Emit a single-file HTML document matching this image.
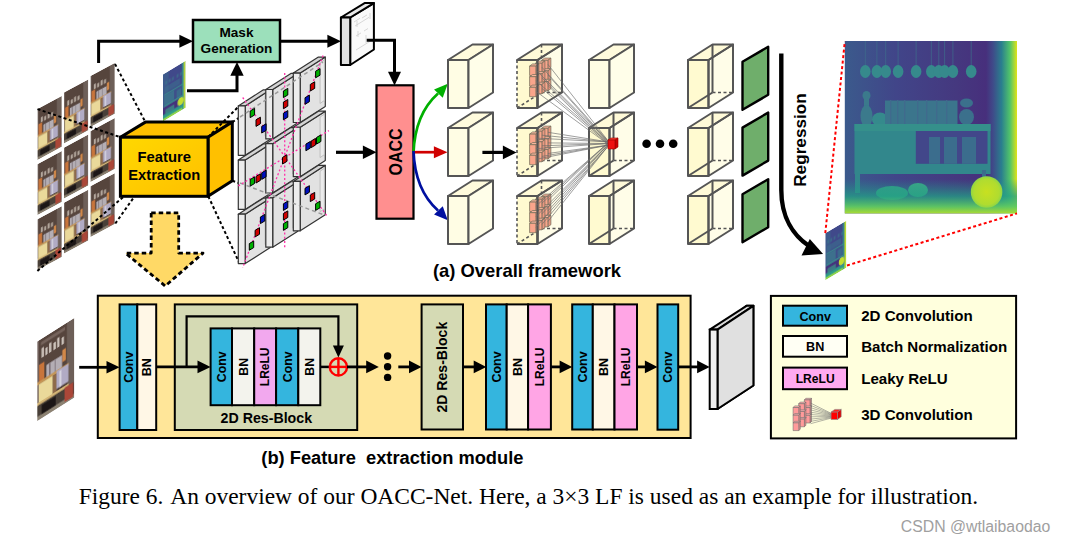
<!DOCTYPE html>
<html><head><meta charset="utf-8"><title>OACC-Net overview</title>
<style>html,body{margin:0;padding:0;background:#fff;width:1066px;height:542px;overflow:hidden}svg{display:block}</style>
</head><body>
<svg width="1066" height="542" viewBox="0 0 1066 542"><defs><filter id="soft" x="-5%" y="-5%" width="110%" height="110%"><feGaussianBlur stdDeviation="0.45"/></filter><clipPath id="cp1"><rect x="0" y="0" width="24.3" height="50.8"/></clipPath><clipPath id="cp2"><rect x="0" y="0" width="24.3" height="50.8"/></clipPath><clipPath id="cp3"><rect x="0" y="0" width="24.3" height="50.8"/></clipPath><clipPath id="cp4"><rect x="0" y="0" width="24.3" height="50.8"/></clipPath><clipPath id="cp5"><rect x="0" y="0" width="24.3" height="50.8"/></clipPath><clipPath id="cp6"><rect x="0" y="0" width="24.3" height="50.8"/></clipPath><clipPath id="cp7"><rect x="0" y="0" width="24.3" height="50.8"/></clipPath><clipPath id="cp8"><rect x="0" y="0" width="24.3" height="50.8"/></clipPath><clipPath id="cp9"><rect x="0" y="0" width="24.3" height="50.8"/></clipPath><clipPath id="cp10"><rect x="0" y="0" width="22.6" height="47"/></clipPath><linearGradient id="feg" x1="0" y1="0" x2="1" y2="1"><stop offset="0" stop-color="#ffd800"/><stop offset="1" stop-color="#ffbf00"/></linearGradient><linearGradient id="dmh" x1="0" y1="0" x2="1" y2="0"><stop offset="0" stop-color="#3b5a8c"/><stop offset="0.3" stop-color="#414589"/><stop offset="0.65" stop-color="#45387f"/><stop offset="0.82" stop-color="#472f7c"/><stop offset="0.86" stop-color="#3f4a89"/><stop offset="0.91" stop-color="#2a7f8e"/><stop offset="0.96" stop-color="#52c569"/><stop offset="1" stop-color="#dfe31a"/></linearGradient><linearGradient id="dmv" x1="0" y1="0" x2="0" y2="1"><stop offset="0" stop-color="#21918c" stop-opacity="0"/><stop offset="0.8" stop-color="#21918c" stop-opacity="0"/><stop offset="0.9" stop-color="#23a085" stop-opacity="0.75"/><stop offset="0.96" stop-color="#5ec962" stop-opacity="0.95"/><stop offset="1" stop-color="#a8db34" stop-opacity="1"/></linearGradient><radialGradient id="ball" cx="0.5" cy="0.5" r="0.5"><stop offset="0" stop-color="#c8e020"/><stop offset="0.8" stop-color="#b0dc30"/><stop offset="1" stop-color="#8ed645"/></radialGradient><clipPath id="cp15"><rect x="0" y="0" width="20.9" height="47"/></clipPath><clipPath id="cp16"><rect x="0" y="0" width="37.1" height="79.5"/></clipPath></defs><rect x="0" y="0" width="1066" height="542" fill="#fff"/>
<g transform="matrix(1,-0.54,0,1,37.4,109.1)"><g clip-path="url(#cp1)"><g filter="url(#soft)"><rect x="0.00" y="0.00" width="24.30" height="50.80" fill="#56443d" opacity="1"/><rect x="19.44" y="0.00" width="4.86" height="40.64" fill="#6d5f58" opacity="1"/><rect x="0.00" y="0.00" width="0.97" height="50.80" fill="#7a6c66" opacity="1"/><rect x="3.40" y="10.16" width="1.94" height="5.08" fill="#c4b8ae" opacity="0.85"/><rect x="6.80" y="11.18" width="1.94" height="4.06" fill="#c4b8ae" opacity="0.85"/><rect x="10.21" y="10.16" width="1.94" height="5.08" fill="#c4b8ae" opacity="0.85"/><rect x="13.61" y="11.18" width="1.94" height="4.06" fill="#c4b8ae" opacity="0.85"/><rect x="1.22" y="15.75" width="3.40" height="11.18" fill="#c8743a" opacity="1"/><rect x="6.08" y="18.80" width="10.21" height="8.13" fill="#b4aeb4" opacity="1"/><rect x="7.78" y="18.80" width="0.97" height="8.13" fill="#7d7278" opacity="1"/><rect x="11.42" y="18.80" width="0.73" height="8.13" fill="#8a8088" opacity="1"/><rect x="16.52" y="15.75" width="2.19" height="7.62" fill="#d08848" opacity="1"/><rect x="0.00" y="26.42" width="20.66" height="1.78" fill="#c49656" opacity="1"/><rect x="0.97" y="28.19" width="9.23" height="12.45" fill="#ead99a" opacity="1"/><rect x="10.21" y="28.19" width="2.43" height="12.45" fill="#8f6a48" opacity="1"/><rect x="12.64" y="26.92" width="7.78" height="11.18" fill="#b1abc4" opacity="1"/><rect x="14.58" y="27.94" width="1.22" height="10.16" fill="#d8d6e0" opacity="1"/><rect x="0.00" y="39.62" width="20.66" height="1.78" fill="#d3b576" opacity="1"/><rect x="0.00" y="41.40" width="24.30" height="9.40" fill="#4a3f38" opacity="1"/><rect x="0.00" y="48.26" width="24.30" height="2.54" fill="#8c8272" opacity="1"/><rect x="2.92" y="42.42" width="9.23" height="5.84" fill="#1a1716" opacity="1"/><rect x="17.98" y="40.64" width="5.59" height="9.14" fill="#aa4638" opacity="1"/></g></g></g>
<g transform="matrix(1,-0.54,0,1,63.9,92.6)"><g clip-path="url(#cp2)"><g filter="url(#soft)"><rect x="0.00" y="0.00" width="24.30" height="50.80" fill="#56443d" opacity="1"/><rect x="19.44" y="0.00" width="4.86" height="40.64" fill="#6d5f58" opacity="1"/><rect x="0.00" y="0.00" width="0.97" height="50.80" fill="#7a6c66" opacity="1"/><rect x="3.40" y="10.16" width="1.94" height="5.08" fill="#c4b8ae" opacity="0.85"/><rect x="6.80" y="11.18" width="1.94" height="4.06" fill="#c4b8ae" opacity="0.85"/><rect x="10.21" y="10.16" width="1.94" height="5.08" fill="#c4b8ae" opacity="0.85"/><rect x="13.61" y="11.18" width="1.94" height="4.06" fill="#c4b8ae" opacity="0.85"/><rect x="1.22" y="15.75" width="3.40" height="11.18" fill="#c8743a" opacity="1"/><rect x="6.08" y="18.80" width="10.21" height="8.13" fill="#b4aeb4" opacity="1"/><rect x="7.78" y="18.80" width="0.97" height="8.13" fill="#7d7278" opacity="1"/><rect x="11.42" y="18.80" width="0.73" height="8.13" fill="#8a8088" opacity="1"/><rect x="16.52" y="15.75" width="2.19" height="7.62" fill="#d08848" opacity="1"/><rect x="0.00" y="26.42" width="20.66" height="1.78" fill="#c49656" opacity="1"/><rect x="0.97" y="28.19" width="9.23" height="12.45" fill="#ead99a" opacity="1"/><rect x="10.21" y="28.19" width="2.43" height="12.45" fill="#8f6a48" opacity="1"/><rect x="12.64" y="26.92" width="7.78" height="11.18" fill="#b1abc4" opacity="1"/><rect x="14.58" y="27.94" width="1.22" height="10.16" fill="#d8d6e0" opacity="1"/><rect x="0.00" y="39.62" width="20.66" height="1.78" fill="#d3b576" opacity="1"/><rect x="0.00" y="41.40" width="24.30" height="9.40" fill="#4a3f38" opacity="1"/><rect x="0.00" y="48.26" width="24.30" height="2.54" fill="#8c8272" opacity="1"/><rect x="2.92" y="42.42" width="9.23" height="5.84" fill="#1a1716" opacity="1"/><rect x="17.98" y="40.64" width="5.59" height="9.14" fill="#aa4638" opacity="1"/></g></g></g>
<g transform="matrix(1,-0.54,0,1,90.4,76.1)"><g clip-path="url(#cp3)"><g filter="url(#soft)"><rect x="0.00" y="0.00" width="24.30" height="50.80" fill="#56443d" opacity="1"/><rect x="19.44" y="0.00" width="4.86" height="40.64" fill="#6d5f58" opacity="1"/><rect x="0.00" y="0.00" width="0.97" height="50.80" fill="#7a6c66" opacity="1"/><rect x="3.40" y="10.16" width="1.94" height="5.08" fill="#c4b8ae" opacity="0.85"/><rect x="6.80" y="11.18" width="1.94" height="4.06" fill="#c4b8ae" opacity="0.85"/><rect x="10.21" y="10.16" width="1.94" height="5.08" fill="#c4b8ae" opacity="0.85"/><rect x="13.61" y="11.18" width="1.94" height="4.06" fill="#c4b8ae" opacity="0.85"/><rect x="1.22" y="15.75" width="3.40" height="11.18" fill="#c8743a" opacity="1"/><rect x="6.08" y="18.80" width="10.21" height="8.13" fill="#b4aeb4" opacity="1"/><rect x="7.78" y="18.80" width="0.97" height="8.13" fill="#7d7278" opacity="1"/><rect x="11.42" y="18.80" width="0.73" height="8.13" fill="#8a8088" opacity="1"/><rect x="16.52" y="15.75" width="2.19" height="7.62" fill="#d08848" opacity="1"/><rect x="0.00" y="26.42" width="20.66" height="1.78" fill="#c49656" opacity="1"/><rect x="0.97" y="28.19" width="9.23" height="12.45" fill="#ead99a" opacity="1"/><rect x="10.21" y="28.19" width="2.43" height="12.45" fill="#8f6a48" opacity="1"/><rect x="12.64" y="26.92" width="7.78" height="11.18" fill="#b1abc4" opacity="1"/><rect x="14.58" y="27.94" width="1.22" height="10.16" fill="#d8d6e0" opacity="1"/><rect x="0.00" y="39.62" width="20.66" height="1.78" fill="#d3b576" opacity="1"/><rect x="0.00" y="41.40" width="24.30" height="9.40" fill="#4a3f38" opacity="1"/><rect x="0.00" y="48.26" width="24.30" height="2.54" fill="#8c8272" opacity="1"/><rect x="2.92" y="42.42" width="9.23" height="5.84" fill="#1a1716" opacity="1"/><rect x="17.98" y="40.64" width="5.59" height="9.14" fill="#aa4638" opacity="1"/></g></g></g>
<g transform="matrix(1,-0.54,0,1,37.4,164.2)"><g clip-path="url(#cp4)"><g filter="url(#soft)"><rect x="0.00" y="0.00" width="24.30" height="50.80" fill="#56443d" opacity="1"/><rect x="19.44" y="0.00" width="4.86" height="40.64" fill="#6d5f58" opacity="1"/><rect x="0.00" y="0.00" width="0.97" height="50.80" fill="#7a6c66" opacity="1"/><rect x="3.40" y="10.16" width="1.94" height="5.08" fill="#c4b8ae" opacity="0.85"/><rect x="6.80" y="11.18" width="1.94" height="4.06" fill="#c4b8ae" opacity="0.85"/><rect x="10.21" y="10.16" width="1.94" height="5.08" fill="#c4b8ae" opacity="0.85"/><rect x="13.61" y="11.18" width="1.94" height="4.06" fill="#c4b8ae" opacity="0.85"/><rect x="1.22" y="15.75" width="3.40" height="11.18" fill="#c8743a" opacity="1"/><rect x="6.08" y="18.80" width="10.21" height="8.13" fill="#b4aeb4" opacity="1"/><rect x="7.78" y="18.80" width="0.97" height="8.13" fill="#7d7278" opacity="1"/><rect x="11.42" y="18.80" width="0.73" height="8.13" fill="#8a8088" opacity="1"/><rect x="16.52" y="15.75" width="2.19" height="7.62" fill="#d08848" opacity="1"/><rect x="0.00" y="26.42" width="20.66" height="1.78" fill="#c49656" opacity="1"/><rect x="0.97" y="28.19" width="9.23" height="12.45" fill="#ead99a" opacity="1"/><rect x="10.21" y="28.19" width="2.43" height="12.45" fill="#8f6a48" opacity="1"/><rect x="12.64" y="26.92" width="7.78" height="11.18" fill="#b1abc4" opacity="1"/><rect x="14.58" y="27.94" width="1.22" height="10.16" fill="#d8d6e0" opacity="1"/><rect x="0.00" y="39.62" width="20.66" height="1.78" fill="#d3b576" opacity="1"/><rect x="0.00" y="41.40" width="24.30" height="9.40" fill="#4a3f38" opacity="1"/><rect x="0.00" y="48.26" width="24.30" height="2.54" fill="#8c8272" opacity="1"/><rect x="2.92" y="42.42" width="9.23" height="5.84" fill="#1a1716" opacity="1"/><rect x="17.98" y="40.64" width="5.59" height="9.14" fill="#aa4638" opacity="1"/></g></g></g>
<g transform="matrix(1,-0.54,0,1,63.9,147.7)"><g clip-path="url(#cp5)"><g filter="url(#soft)"><rect x="0.00" y="0.00" width="24.30" height="50.80" fill="#56443d" opacity="1"/><rect x="19.44" y="0.00" width="4.86" height="40.64" fill="#6d5f58" opacity="1"/><rect x="0.00" y="0.00" width="0.97" height="50.80" fill="#7a6c66" opacity="1"/><rect x="3.40" y="10.16" width="1.94" height="5.08" fill="#c4b8ae" opacity="0.85"/><rect x="6.80" y="11.18" width="1.94" height="4.06" fill="#c4b8ae" opacity="0.85"/><rect x="10.21" y="10.16" width="1.94" height="5.08" fill="#c4b8ae" opacity="0.85"/><rect x="13.61" y="11.18" width="1.94" height="4.06" fill="#c4b8ae" opacity="0.85"/><rect x="1.22" y="15.75" width="3.40" height="11.18" fill="#c8743a" opacity="1"/><rect x="6.08" y="18.80" width="10.21" height="8.13" fill="#b4aeb4" opacity="1"/><rect x="7.78" y="18.80" width="0.97" height="8.13" fill="#7d7278" opacity="1"/><rect x="11.42" y="18.80" width="0.73" height="8.13" fill="#8a8088" opacity="1"/><rect x="16.52" y="15.75" width="2.19" height="7.62" fill="#d08848" opacity="1"/><rect x="0.00" y="26.42" width="20.66" height="1.78" fill="#c49656" opacity="1"/><rect x="0.97" y="28.19" width="9.23" height="12.45" fill="#ead99a" opacity="1"/><rect x="10.21" y="28.19" width="2.43" height="12.45" fill="#8f6a48" opacity="1"/><rect x="12.64" y="26.92" width="7.78" height="11.18" fill="#b1abc4" opacity="1"/><rect x="14.58" y="27.94" width="1.22" height="10.16" fill="#d8d6e0" opacity="1"/><rect x="0.00" y="39.62" width="20.66" height="1.78" fill="#d3b576" opacity="1"/><rect x="0.00" y="41.40" width="24.30" height="9.40" fill="#4a3f38" opacity="1"/><rect x="0.00" y="48.26" width="24.30" height="2.54" fill="#8c8272" opacity="1"/><rect x="2.92" y="42.42" width="9.23" height="5.84" fill="#1a1716" opacity="1"/><rect x="17.98" y="40.64" width="5.59" height="9.14" fill="#aa4638" opacity="1"/></g></g></g>
<g transform="matrix(1,-0.54,0,1,90.4,131.2)"><g clip-path="url(#cp6)"><g filter="url(#soft)"><rect x="0.00" y="0.00" width="24.30" height="50.80" fill="#56443d" opacity="1"/><rect x="19.44" y="0.00" width="4.86" height="40.64" fill="#6d5f58" opacity="1"/><rect x="0.00" y="0.00" width="0.97" height="50.80" fill="#7a6c66" opacity="1"/><rect x="3.40" y="10.16" width="1.94" height="5.08" fill="#c4b8ae" opacity="0.85"/><rect x="6.80" y="11.18" width="1.94" height="4.06" fill="#c4b8ae" opacity="0.85"/><rect x="10.21" y="10.16" width="1.94" height="5.08" fill="#c4b8ae" opacity="0.85"/><rect x="13.61" y="11.18" width="1.94" height="4.06" fill="#c4b8ae" opacity="0.85"/><rect x="1.22" y="15.75" width="3.40" height="11.18" fill="#c8743a" opacity="1"/><rect x="6.08" y="18.80" width="10.21" height="8.13" fill="#b4aeb4" opacity="1"/><rect x="7.78" y="18.80" width="0.97" height="8.13" fill="#7d7278" opacity="1"/><rect x="11.42" y="18.80" width="0.73" height="8.13" fill="#8a8088" opacity="1"/><rect x="16.52" y="15.75" width="2.19" height="7.62" fill="#d08848" opacity="1"/><rect x="0.00" y="26.42" width="20.66" height="1.78" fill="#c49656" opacity="1"/><rect x="0.97" y="28.19" width="9.23" height="12.45" fill="#ead99a" opacity="1"/><rect x="10.21" y="28.19" width="2.43" height="12.45" fill="#8f6a48" opacity="1"/><rect x="12.64" y="26.92" width="7.78" height="11.18" fill="#b1abc4" opacity="1"/><rect x="14.58" y="27.94" width="1.22" height="10.16" fill="#d8d6e0" opacity="1"/><rect x="0.00" y="39.62" width="20.66" height="1.78" fill="#d3b576" opacity="1"/><rect x="0.00" y="41.40" width="24.30" height="9.40" fill="#4a3f38" opacity="1"/><rect x="0.00" y="48.26" width="24.30" height="2.54" fill="#8c8272" opacity="1"/><rect x="2.92" y="42.42" width="9.23" height="5.84" fill="#1a1716" opacity="1"/><rect x="17.98" y="40.64" width="5.59" height="9.14" fill="#aa4638" opacity="1"/></g></g></g>
<g transform="matrix(1,-0.54,0,1,37.4,219.3)"><g clip-path="url(#cp7)"><g filter="url(#soft)"><rect x="0.00" y="0.00" width="24.30" height="50.80" fill="#56443d" opacity="1"/><rect x="19.44" y="0.00" width="4.86" height="40.64" fill="#6d5f58" opacity="1"/><rect x="0.00" y="0.00" width="0.97" height="50.80" fill="#7a6c66" opacity="1"/><rect x="3.40" y="10.16" width="1.94" height="5.08" fill="#c4b8ae" opacity="0.85"/><rect x="6.80" y="11.18" width="1.94" height="4.06" fill="#c4b8ae" opacity="0.85"/><rect x="10.21" y="10.16" width="1.94" height="5.08" fill="#c4b8ae" opacity="0.85"/><rect x="13.61" y="11.18" width="1.94" height="4.06" fill="#c4b8ae" opacity="0.85"/><rect x="1.22" y="15.75" width="3.40" height="11.18" fill="#c8743a" opacity="1"/><rect x="6.08" y="18.80" width="10.21" height="8.13" fill="#b4aeb4" opacity="1"/><rect x="7.78" y="18.80" width="0.97" height="8.13" fill="#7d7278" opacity="1"/><rect x="11.42" y="18.80" width="0.73" height="8.13" fill="#8a8088" opacity="1"/><rect x="16.52" y="15.75" width="2.19" height="7.62" fill="#d08848" opacity="1"/><rect x="0.00" y="26.42" width="20.66" height="1.78" fill="#c49656" opacity="1"/><rect x="0.97" y="28.19" width="9.23" height="12.45" fill="#ead99a" opacity="1"/><rect x="10.21" y="28.19" width="2.43" height="12.45" fill="#8f6a48" opacity="1"/><rect x="12.64" y="26.92" width="7.78" height="11.18" fill="#b1abc4" opacity="1"/><rect x="14.58" y="27.94" width="1.22" height="10.16" fill="#d8d6e0" opacity="1"/><rect x="0.00" y="39.62" width="20.66" height="1.78" fill="#d3b576" opacity="1"/><rect x="0.00" y="41.40" width="24.30" height="9.40" fill="#4a3f38" opacity="1"/><rect x="0.00" y="48.26" width="24.30" height="2.54" fill="#8c8272" opacity="1"/><rect x="2.92" y="42.42" width="9.23" height="5.84" fill="#1a1716" opacity="1"/><rect x="17.98" y="40.64" width="5.59" height="9.14" fill="#aa4638" opacity="1"/></g></g></g>
<g transform="matrix(1,-0.54,0,1,63.9,202.8)"><g clip-path="url(#cp8)"><g filter="url(#soft)"><rect x="0.00" y="0.00" width="24.30" height="50.80" fill="#56443d" opacity="1"/><rect x="19.44" y="0.00" width="4.86" height="40.64" fill="#6d5f58" opacity="1"/><rect x="0.00" y="0.00" width="0.97" height="50.80" fill="#7a6c66" opacity="1"/><rect x="3.40" y="10.16" width="1.94" height="5.08" fill="#c4b8ae" opacity="0.85"/><rect x="6.80" y="11.18" width="1.94" height="4.06" fill="#c4b8ae" opacity="0.85"/><rect x="10.21" y="10.16" width="1.94" height="5.08" fill="#c4b8ae" opacity="0.85"/><rect x="13.61" y="11.18" width="1.94" height="4.06" fill="#c4b8ae" opacity="0.85"/><rect x="1.22" y="15.75" width="3.40" height="11.18" fill="#c8743a" opacity="1"/><rect x="6.08" y="18.80" width="10.21" height="8.13" fill="#b4aeb4" opacity="1"/><rect x="7.78" y="18.80" width="0.97" height="8.13" fill="#7d7278" opacity="1"/><rect x="11.42" y="18.80" width="0.73" height="8.13" fill="#8a8088" opacity="1"/><rect x="16.52" y="15.75" width="2.19" height="7.62" fill="#d08848" opacity="1"/><rect x="0.00" y="26.42" width="20.66" height="1.78" fill="#c49656" opacity="1"/><rect x="0.97" y="28.19" width="9.23" height="12.45" fill="#ead99a" opacity="1"/><rect x="10.21" y="28.19" width="2.43" height="12.45" fill="#8f6a48" opacity="1"/><rect x="12.64" y="26.92" width="7.78" height="11.18" fill="#b1abc4" opacity="1"/><rect x="14.58" y="27.94" width="1.22" height="10.16" fill="#d8d6e0" opacity="1"/><rect x="0.00" y="39.62" width="20.66" height="1.78" fill="#d3b576" opacity="1"/><rect x="0.00" y="41.40" width="24.30" height="9.40" fill="#4a3f38" opacity="1"/><rect x="0.00" y="48.26" width="24.30" height="2.54" fill="#8c8272" opacity="1"/><rect x="2.92" y="42.42" width="9.23" height="5.84" fill="#1a1716" opacity="1"/><rect x="17.98" y="40.64" width="5.59" height="9.14" fill="#aa4638" opacity="1"/></g></g></g>
<g transform="matrix(1,-0.54,0,1,90.4,186.3)"><g clip-path="url(#cp9)"><g filter="url(#soft)"><rect x="0.00" y="0.00" width="24.30" height="50.80" fill="#56443d" opacity="1"/><rect x="19.44" y="0.00" width="4.86" height="40.64" fill="#6d5f58" opacity="1"/><rect x="0.00" y="0.00" width="0.97" height="50.80" fill="#7a6c66" opacity="1"/><rect x="3.40" y="10.16" width="1.94" height="5.08" fill="#c4b8ae" opacity="0.85"/><rect x="6.80" y="11.18" width="1.94" height="4.06" fill="#c4b8ae" opacity="0.85"/><rect x="10.21" y="10.16" width="1.94" height="5.08" fill="#c4b8ae" opacity="0.85"/><rect x="13.61" y="11.18" width="1.94" height="4.06" fill="#c4b8ae" opacity="0.85"/><rect x="1.22" y="15.75" width="3.40" height="11.18" fill="#c8743a" opacity="1"/><rect x="6.08" y="18.80" width="10.21" height="8.13" fill="#b4aeb4" opacity="1"/><rect x="7.78" y="18.80" width="0.97" height="8.13" fill="#7d7278" opacity="1"/><rect x="11.42" y="18.80" width="0.73" height="8.13" fill="#8a8088" opacity="1"/><rect x="16.52" y="15.75" width="2.19" height="7.62" fill="#d08848" opacity="1"/><rect x="0.00" y="26.42" width="20.66" height="1.78" fill="#c49656" opacity="1"/><rect x="0.97" y="28.19" width="9.23" height="12.45" fill="#ead99a" opacity="1"/><rect x="10.21" y="28.19" width="2.43" height="12.45" fill="#8f6a48" opacity="1"/><rect x="12.64" y="26.92" width="7.78" height="11.18" fill="#b1abc4" opacity="1"/><rect x="14.58" y="27.94" width="1.22" height="10.16" fill="#d8d6e0" opacity="1"/><rect x="0.00" y="39.62" width="20.66" height="1.78" fill="#d3b576" opacity="1"/><rect x="0.00" y="41.40" width="24.30" height="9.40" fill="#4a3f38" opacity="1"/><rect x="0.00" y="48.26" width="24.30" height="2.54" fill="#8c8272" opacity="1"/><rect x="2.92" y="42.42" width="9.23" height="5.84" fill="#1a1716" opacity="1"/><rect x="17.98" y="40.64" width="5.59" height="9.14" fill="#aa4638" opacity="1"/></g></g></g>
<path d="M98.6,63 V41.3 H181" fill="none" stroke="#000" stroke-width="3" />
<polygon points="193.00,41.30 179.35,47.80 179.35,34.80" fill="#000" stroke="none" stroke-width="1" stroke-linejoin="round" />
<rect x="193.00" y="20.00" width="87.00" height="42.00" fill="#9ce0bb" stroke="#000" stroke-width="2.5" />
<text x="236.50" y="37.30" font-family="Liberation Sans" font-size="13.6" font-weight="bold" text-anchor="middle" fill="#000" >Mask</text>
<text x="236.50" y="52.80" font-family="Liberation Sans" font-size="13.6" font-weight="bold" text-anchor="middle" fill="#000" >Generation</text>
<line x1="280.00" y1="41.30" x2="330.00" y2="41.30" stroke="#000" stroke-width="3" />
<polygon points="341.00,41.30 327.35,47.80 327.35,34.80" fill="#000" stroke="none" stroke-width="1" stroke-linejoin="round" />
<g transform="matrix(1,-0.6,0,1,163,74.4)"><g clip-path="url(#cp10)"><g filter="url(#soft)"><rect x="0.00" y="0.00" width="22.60" height="47.00" fill="#41498a" opacity="1"/><rect x="0.00" y="0.00" width="5.65" height="47.00" fill="#3d5a8c" opacity="1"/><rect x="2.26" y="8.46" width="1.81" height="3.29" fill="#3a7f8c" opacity="0.6"/><rect x="5.65" y="8.46" width="1.81" height="3.29" fill="#3a7f8c" opacity="0.6"/><rect x="9.04" y="8.46" width="1.81" height="3.29" fill="#3a7f8c" opacity="0.6"/><rect x="13.56" y="8.46" width="1.81" height="3.29" fill="#3a7f8c" opacity="0.6"/><rect x="16.95" y="8.46" width="1.81" height="3.29" fill="#3a7f8c" opacity="0.6"/><rect x="1.81" y="14.10" width="15.14" height="5.64" fill="#3d6a8d" opacity="0.7"/><rect x="1.13" y="20.68" width="18.76" height="1.88" fill="#3a7f8c" opacity="1"/><rect x="1.13" y="22.56" width="10.17" height="9.40" fill="#3c708d" opacity="1"/><rect x="11.30" y="22.56" width="7.91" height="9.40" fill="#3f4f8a" opacity="1"/><rect x="13.56" y="24.44" width="4.52" height="7.52" fill="#3b708c" opacity="0.8"/><rect x="1.13" y="31.96" width="18.76" height="1.88" fill="#3a858c" opacity="1"/><rect x="0.00" y="33.84" width="16.95" height="6.58" fill="#45307c" opacity="1"/><rect x="2.26" y="36.66" width="9.04" height="4.70" fill="#3a9a88" opacity="0.7"/><rect x="0.00" y="41.36" width="22.60" height="5.64" fill="#2f9a88" opacity="1"/><rect x="0.00" y="44.65" width="22.60" height="2.35" fill="#8ed44a" opacity="1"/><rect x="18.98" y="0.00" width="1.81" height="47.00" fill="#2f9a88" opacity="0.8"/><rect x="20.79" y="0.00" width="1.81" height="47.00" fill="#b8de30" opacity="1"/><ellipse cx="17.63" cy="37.60" rx="2.94" ry="3.76" fill="#c2df30"/></g></g></g>
<path d="M187,90.8 H237 V74" fill="none" stroke="#000" stroke-width="3" />
<polygon points="237.00,62.00 243.70,75.65 230.30,75.65" fill="#000" stroke="none" stroke-width="1" stroke-linejoin="round" />
<polygon points="350.20,17.50 373.90,3.10 373.90,49.50 350.20,65.00" fill="#fafafa" stroke="#000" stroke-width="2" stroke-linejoin="round" />
<polygon points="340.90,17.50 364.60,3.10 373.90,3.10 350.20,17.50" fill="#e8e8e8" stroke="#000" stroke-width="2" stroke-linejoin="round" />
<polygon points="340.90,17.50 350.20,17.50 350.20,65.00 340.90,65.00" fill="#e0e0e0" stroke="#000" stroke-width="2" stroke-linejoin="round" />
<line x1="354.00" y1="22.00" x2="360.00" y2="18.28" stroke="#c8c8c8" stroke-width="0.7" />
<line x1="362.00" y1="18.00" x2="367.00" y2="14.90" stroke="#c8c8c8" stroke-width="0.7" />
<line x1="355.00" y1="26.00" x2="369.00" y2="17.32" stroke="#c8c8c8" stroke-width="0.7" />
<line x1="356.00" y1="36.00" x2="361.00" y2="32.90" stroke="#c8c8c8" stroke-width="0.7" />
<line x1="364.00" y1="31.00" x2="368.00" y2="28.52" stroke="#c8c8c8" stroke-width="0.7" />
<line x1="356.00" y1="50.00" x2="372.00" y2="40.08" stroke="#c8c8c8" stroke-width="0.7" />
<line x1="357.00" y1="21.00" x2="357.00" y2="27.00" stroke="#c8c8c8" stroke-width="0.7" />
<line x1="370.00" y1="13.00" x2="370.00" y2="19.00" stroke="#c8c8c8" stroke-width="0.7" />
<line x1="358.00" y1="31.00" x2="358.00" y2="37.00" stroke="#c8c8c8" stroke-width="0.7" />
<line x1="366.00" y1="35.00" x2="366.00" y2="43.00" stroke="#c8c8c8" stroke-width="0.7" />
<path d="M366.7,40.2 H394.5 V73" fill="none" stroke="#000" stroke-width="3" />
<polygon points="394.50,85.50 388.00,71.85 401.00,71.85" fill="#000" stroke="none" stroke-width="1" stroke-linejoin="round" />
<line x1="115.30" y1="223.50" x2="145.40" y2="181.00" stroke="#000" stroke-width="2" stroke-dasharray="3,2.5"/>
<line x1="115.00" y1="64.00" x2="145.40" y2="122.10" stroke="#000" stroke-width="2" stroke-dasharray="3,2.5"/>
<line x1="37.50" y1="109.10" x2="120.40" y2="137.20" stroke="#000" stroke-width="2" stroke-dasharray="3,2.5"/>
<line x1="37.40" y1="271.00" x2="124.00" y2="196.30" stroke="#000" stroke-width="2" stroke-dasharray="3,2.5"/>
<polygon points="120.40,137.20 145.40,122.10 232.30,122.10 208.00,137.20" fill="#ffc000" stroke="#000" stroke-width="3" stroke-linejoin="round" />
<polygon points="208.00,137.20 232.30,122.10 232.30,180.80 208.00,196.30" fill="#ffc000" stroke="#000" stroke-width="3" stroke-linejoin="round" />
<rect x="120.40" y="137.20" width="87.60" height="59.10" fill="url(#feg)" stroke="#000" stroke-width="3" />
<text x="164.20" y="162.30" font-family="Liberation Sans" font-size="14.8" font-weight="bold" text-anchor="middle" fill="#000" >Feature</text>
<text x="164.20" y="179.50" font-family="Liberation Sans" font-size="14.7" font-weight="bold" text-anchor="middle" fill="#000" >Extraction</text>
<line x1="208.00" y1="137.20" x2="238.60" y2="106.50" stroke="#000" stroke-width="2" stroke-dasharray="3,2.5"/>
<line x1="232.30" y1="122.10" x2="238.60" y2="118.00" stroke="#000" stroke-width="2" stroke-dasharray="3,2.5"/>
<line x1="232.30" y1="180.80" x2="238.60" y2="183.00" stroke="#000" stroke-width="2" stroke-dasharray="3,2.5"/>
<line x1="208.30" y1="196.30" x2="238.90" y2="262.00" stroke="#000" stroke-width="2" stroke-dasharray="3,2.5"/>
<polygon points="245.20,105.90 270.30,89.84 270.30,139.24 245.20,155.30" fill="#e2e2e2" stroke="#333" stroke-width="1.2" stroke-linejoin="round" />
<polygon points="265.10,95.66 269.40,92.85 269.40,133.24 265.10,136.24" fill="#ebebeb" stroke="#b5b5b5" stroke-width="0.8" stroke-linejoin="round" />
<polygon points="238.30,105.90 263.40,89.84 270.30,89.84 245.20,105.90" fill="#d4d4d4" stroke="#333" stroke-width="1.2" stroke-linejoin="round" />
<polygon points="238.30,105.90 245.20,105.90 245.20,155.30 238.30,155.30" fill="#ececec" stroke="#333" stroke-width="1.2" stroke-linejoin="round" />
<polygon points="272.70,89.50 297.80,73.44 297.80,122.84 272.70,138.90" fill="#e2e2e2" stroke="#333" stroke-width="1.2" stroke-linejoin="round" />
<polygon points="292.60,79.26 296.90,76.45 296.90,116.84 292.60,119.84" fill="#ebebeb" stroke="#b5b5b5" stroke-width="0.8" stroke-linejoin="round" />
<polygon points="265.80,89.50 290.90,73.44 297.80,73.44 272.70,89.50" fill="#d4d4d4" stroke="#333" stroke-width="1.2" stroke-linejoin="round" />
<polygon points="265.80,89.50 272.70,89.50 272.70,138.90 265.80,138.90" fill="#ececec" stroke="#333" stroke-width="1.2" stroke-linejoin="round" />
<polygon points="300.20,73.10 325.30,57.04 325.30,106.44 300.20,122.50" fill="#e2e2e2" stroke="#333" stroke-width="1.2" stroke-linejoin="round" />
<polygon points="320.10,62.86 324.40,60.05 324.40,100.44 320.10,103.44" fill="#ebebeb" stroke="#b5b5b5" stroke-width="0.8" stroke-linejoin="round" />
<polygon points="293.30,73.10 318.40,57.04 325.30,57.04 300.20,73.10" fill="#d4d4d4" stroke="#333" stroke-width="1.2" stroke-linejoin="round" />
<polygon points="293.30,73.10 300.20,73.10 300.20,122.50 293.30,122.50" fill="#ececec" stroke="#333" stroke-width="1.2" stroke-linejoin="round" />
<polygon points="245.20,160.05 270.30,143.99 270.30,193.39 245.20,209.45" fill="#e2e2e2" stroke="#333" stroke-width="1.2" stroke-linejoin="round" />
<polygon points="265.10,149.81 269.40,147.00 269.40,187.39 265.10,190.39" fill="#ebebeb" stroke="#b5b5b5" stroke-width="0.8" stroke-linejoin="round" />
<polygon points="238.30,160.05 263.40,143.99 270.30,143.99 245.20,160.05" fill="#d4d4d4" stroke="#333" stroke-width="1.2" stroke-linejoin="round" />
<polygon points="238.30,160.05 245.20,160.05 245.20,209.45 238.30,209.45" fill="#ececec" stroke="#333" stroke-width="1.2" stroke-linejoin="round" />
<polygon points="272.70,143.65 297.80,127.59 297.80,176.99 272.70,193.05" fill="#e2e2e2" stroke="#333" stroke-width="1.2" stroke-linejoin="round" />
<polygon points="292.60,133.41 296.90,130.60 296.90,170.99 292.60,173.99" fill="#ebebeb" stroke="#b5b5b5" stroke-width="0.8" stroke-linejoin="round" />
<polygon points="265.80,143.65 290.90,127.59 297.80,127.59 272.70,143.65" fill="#d4d4d4" stroke="#333" stroke-width="1.2" stroke-linejoin="round" />
<polygon points="265.80,143.65 272.70,143.65 272.70,193.05 265.80,193.05" fill="#ececec" stroke="#333" stroke-width="1.2" stroke-linejoin="round" />
<polygon points="300.20,127.25 325.30,111.19 325.30,160.59 300.20,176.65" fill="#e2e2e2" stroke="#333" stroke-width="1.2" stroke-linejoin="round" />
<polygon points="320.10,117.01 324.40,114.20 324.40,154.59 320.10,157.59" fill="#ebebeb" stroke="#b5b5b5" stroke-width="0.8" stroke-linejoin="round" />
<polygon points="293.30,127.25 318.40,111.19 325.30,111.19 300.20,127.25" fill="#d4d4d4" stroke="#333" stroke-width="1.2" stroke-linejoin="round" />
<polygon points="293.30,127.25 300.20,127.25 300.20,176.65 293.30,176.65" fill="#ececec" stroke="#333" stroke-width="1.2" stroke-linejoin="round" />
<polygon points="245.20,214.20 270.30,198.14 270.30,247.54 245.20,263.60" fill="#e2e2e2" stroke="#333" stroke-width="1.2" stroke-linejoin="round" />
<polygon points="265.10,203.96 269.40,201.15 269.40,241.54 265.10,244.54" fill="#ebebeb" stroke="#b5b5b5" stroke-width="0.8" stroke-linejoin="round" />
<polygon points="238.30,214.20 263.40,198.14 270.30,198.14 245.20,214.20" fill="#d4d4d4" stroke="#333" stroke-width="1.2" stroke-linejoin="round" />
<polygon points="238.30,214.20 245.20,214.20 245.20,263.60 238.30,263.60" fill="#ececec" stroke="#333" stroke-width="1.2" stroke-linejoin="round" />
<polygon points="272.70,197.80 297.80,181.74 297.80,231.14 272.70,247.20" fill="#e2e2e2" stroke="#333" stroke-width="1.2" stroke-linejoin="round" />
<polygon points="292.60,187.56 296.90,184.75 296.90,225.14 292.60,228.14" fill="#ebebeb" stroke="#b5b5b5" stroke-width="0.8" stroke-linejoin="round" />
<polygon points="265.80,197.80 290.90,181.74 297.80,181.74 272.70,197.80" fill="#d4d4d4" stroke="#333" stroke-width="1.2" stroke-linejoin="round" />
<polygon points="265.80,197.80 272.70,197.80 272.70,247.20 265.80,247.20" fill="#ececec" stroke="#333" stroke-width="1.2" stroke-linejoin="round" />
<polygon points="300.20,181.40 325.30,165.34 325.30,214.74 300.20,230.80" fill="#e2e2e2" stroke="#333" stroke-width="1.2" stroke-linejoin="round" />
<polygon points="320.10,171.16 324.40,168.35 324.40,208.74 320.10,211.74" fill="#ebebeb" stroke="#b5b5b5" stroke-width="0.8" stroke-linejoin="round" />
<polygon points="293.30,181.40 318.40,165.34 325.30,165.34 300.20,181.40" fill="#d4d4d4" stroke="#333" stroke-width="1.2" stroke-linejoin="round" />
<polygon points="293.30,181.40 300.20,181.40 300.20,230.80 293.30,230.80" fill="#ececec" stroke="#333" stroke-width="1.2" stroke-linejoin="round" />
<line x1="240.00" y1="117.00" x2="323.00" y2="62.00" stroke="#9a9a9a" stroke-width="1.5" stroke-dasharray="4,3"/>
<line x1="240.00" y1="183.00" x2="323.00" y2="214.60" stroke="#9a9a9a" stroke-width="1.5" stroke-dasharray="4,3"/>
<line x1="284.70" y1="73.00" x2="284.70" y2="248.00" stroke="#ff33aa" stroke-width="1.3" stroke-dasharray="2,2.2"/>
<line x1="323.10" y1="55.50" x2="242.70" y2="267.70" stroke="#ff33aa" stroke-width="1.3" stroke-dasharray="2,2.2"/>
<line x1="242.70" y1="97.50" x2="327.60" y2="216.80" stroke="#ff33aa" stroke-width="1.3" stroke-dasharray="2,2.2"/>
<line x1="238.30" y1="185.90" x2="328.90" y2="130.60" stroke="#ff33aa" stroke-width="1.3" stroke-dasharray="2,2.2"/>
<polygon points="250.20,111.02 254.60,108.38 254.60,114.98 250.20,117.62" fill="#00b000" stroke="#000" stroke-width="1" stroke-linejoin="round" />
<polygon points="256.00,119.82 260.40,117.18 260.40,123.78 256.00,126.42" fill="#d00000" stroke="#000" stroke-width="1" stroke-linejoin="round" />
<polygon points="261.70,126.42 266.10,123.78 266.10,130.38 261.70,133.02" fill="#0010c0" stroke="#000" stroke-width="1" stroke-linejoin="round" />
<polygon points="283.40,91.02 287.80,88.38 287.80,94.98 283.40,97.62" fill="#00b000" stroke="#000" stroke-width="1" stroke-linejoin="round" />
<polygon points="283.40,102.12 287.80,99.48 287.80,106.08 283.40,108.72" fill="#d00000" stroke="#000" stroke-width="1" stroke-linejoin="round" />
<polygon points="283.40,113.22 287.80,110.58 287.80,117.18 283.40,119.82" fill="#0010c0" stroke="#000" stroke-width="1" stroke-linejoin="round" />
<polygon points="315.60,71.22 320.00,68.58 320.00,75.18 315.60,77.82" fill="#00b000" stroke="#000" stroke-width="1" stroke-linejoin="round" />
<polygon points="310.30,84.42 314.70,81.78 314.70,88.38 310.30,91.02" fill="#d00000" stroke="#000" stroke-width="1" stroke-linejoin="round" />
<polygon points="305.00,97.72 309.40,95.08 309.40,101.68 305.00,104.32" fill="#0010c0" stroke="#000" stroke-width="1" stroke-linejoin="round" />
<polygon points="250.20,179.52 254.60,176.88 254.60,183.48 250.20,186.12" fill="#00b000" stroke="#000" stroke-width="1" stroke-linejoin="round" />
<polygon points="256.00,176.42 260.40,173.78 260.40,180.38 256.00,183.02" fill="#d00000" stroke="#000" stroke-width="1" stroke-linejoin="round" />
<polygon points="261.70,172.82 266.10,170.18 266.10,176.78 261.70,179.42" fill="#0010c0" stroke="#000" stroke-width="1" stroke-linejoin="round" />
<polygon points="282.50,157.42 286.90,154.78 286.90,161.38 282.50,164.02" fill="#d00000" stroke="#000" stroke-width="1" stroke-linejoin="round" />
<polygon points="305.90,144.12 310.30,141.48 310.30,148.08 305.90,150.72" fill="#0010c0" stroke="#000" stroke-width="1" stroke-linejoin="round" />
<polygon points="311.20,141.02 315.60,138.38 315.60,144.98 311.20,147.62" fill="#d00000" stroke="#000" stroke-width="1" stroke-linejoin="round" />
<polygon points="316.50,137.52 320.90,134.88 320.90,141.48 316.50,144.12" fill="#00b000" stroke="#000" stroke-width="1" stroke-linejoin="round" />
<polygon points="260.40,217.02 264.80,214.38 264.80,220.98 260.40,223.62" fill="#0010c0" stroke="#000" stroke-width="1" stroke-linejoin="round" />
<polygon points="255.10,230.32 259.50,227.68 259.50,234.28 255.10,236.92" fill="#d00000" stroke="#000" stroke-width="1" stroke-linejoin="round" />
<polygon points="249.30,243.62 253.70,240.98 253.70,247.58 249.30,250.22" fill="#00b000" stroke="#000" stroke-width="1" stroke-linejoin="round" />
<polygon points="283.40,203.82 287.80,201.18 287.80,207.78 283.40,210.42" fill="#0010c0" stroke="#000" stroke-width="1" stroke-linejoin="round" />
<polygon points="283.40,213.52 287.80,210.88 287.80,217.48 283.40,220.12" fill="#d00000" stroke="#000" stroke-width="1" stroke-linejoin="round" />
<polygon points="283.40,223.72 287.80,221.08 287.80,227.68 283.40,230.32" fill="#00b000" stroke="#000" stroke-width="1" stroke-linejoin="round" />
<polygon points="305.00,188.32 309.40,185.68 309.40,192.28 305.00,194.92" fill="#0010c0" stroke="#000" stroke-width="1" stroke-linejoin="round" />
<polygon points="310.30,195.02 314.70,192.38 314.70,198.98 310.30,201.62" fill="#d00000" stroke="#000" stroke-width="1" stroke-linejoin="round" />
<polygon points="315.60,203.82 320.00,201.18 320.00,207.78 315.60,210.42" fill="#00b000" stroke="#000" stroke-width="1" stroke-linejoin="round" />
<line x1="336.00" y1="152.30" x2="364.00" y2="152.30" stroke="#000" stroke-width="3.2" />
<polygon points="376.50,152.30 362.85,159.10 362.85,145.50" fill="#000" stroke="none" stroke-width="1" stroke-linejoin="round" />
<rect x="376.50" y="85.30" width="37.00" height="133.40" fill="#ff8f8f" stroke="#000" stroke-width="2.2" />
<text x="0.00" y="0.00" font-family="Liberation Sans" font-size="19.2" font-weight="bold" text-anchor="middle" fill="#000" transform="translate(402.2,152) rotate(-90) scale(0.83,1)">OACC</text>
<path d="M413.5,153 C414.5,126 424,106 438,93.5" fill="none" stroke="#00b000" stroke-width="2.7" />
<polygon points="447.80,83.80 442.73,97.82 434.04,89.55" fill="#00b000" stroke="none" stroke-width="1" stroke-linejoin="round" />
<line x1="413.50" y1="152.20" x2="436.00" y2="152.20" stroke="#d00000" stroke-width="2.7" />
<polygon points="447.50,152.20 433.85,158.20 433.85,146.20" fill="#d00000" stroke="none" stroke-width="1" stroke-linejoin="round" />
<path d="M413.5,151 C414.5,178 424,198 438,210.5" fill="none" stroke="#0010a0" stroke-width="2.7" />
<polygon points="447.80,220.20 434.04,214.45 442.73,206.18" fill="#0010a0" stroke="none" stroke-width="1" stroke-linejoin="round" />
<polygon points="448.00,60.00 468.50,60.00 468.50,108.00 448.00,108.00" fill="#fffde4" stroke="#555555" stroke-width="2" stroke-linejoin="round" />
<polygon points="448.00,60.00 472.50,44.50 493.00,44.50 468.50,60.00" fill="#fffbdd" stroke="#555555" stroke-width="2" stroke-linejoin="round" />
<polygon points="468.50,60.00 493.00,44.50 493.00,92.50 468.50,108.00" fill="#fffee9" stroke="#555555" stroke-width="2" stroke-linejoin="round" />
<polygon points="448.00,128.00 468.50,128.00 468.50,176.00 448.00,176.00" fill="#fffde4" stroke="#555555" stroke-width="2" stroke-linejoin="round" />
<polygon points="448.00,128.00 472.50,112.50 493.00,112.50 468.50,128.00" fill="#fffbdd" stroke="#555555" stroke-width="2" stroke-linejoin="round" />
<polygon points="468.50,128.00 493.00,112.50 493.00,160.50 468.50,176.00" fill="#fffee9" stroke="#555555" stroke-width="2" stroke-linejoin="round" />
<polygon points="448.00,196.00 468.50,196.00 468.50,244.00 448.00,244.00" fill="#fffde4" stroke="#555555" stroke-width="2" stroke-linejoin="round" />
<polygon points="448.00,196.00 472.50,180.50 493.00,180.50 468.50,196.00" fill="#fffbdd" stroke="#555555" stroke-width="2" stroke-linejoin="round" />
<polygon points="468.50,196.00 493.00,180.50 493.00,228.50 468.50,244.00" fill="#fffee9" stroke="#555555" stroke-width="2" stroke-linejoin="round" />
<polygon points="517.00,60.00 537.50,60.00 537.50,108.00 517.00,108.00" fill="#fffad0" stroke="none" stroke-width="1" stroke-linejoin="round" />
<polygon points="517.00,60.00 541.50,44.50 562.00,44.50 537.50,60.00" fill="#fffad8" stroke="none" stroke-width="1" stroke-linejoin="round" />
<polygon points="537.50,60.00 562.00,44.50 562.00,92.50 537.50,108.00" fill="#fffde8" stroke="none" stroke-width="1" stroke-linejoin="round" />
<line x1="541.50" y1="44.50" x2="541.50" y2="92.50" stroke="#555555" stroke-width="1.6" stroke-dasharray="3,2.5"/>
<line x1="541.50" y1="92.50" x2="562.00" y2="92.50" stroke="#555555" stroke-width="1.6" stroke-dasharray="3,2.5"/>
<line x1="517.00" y1="108.00" x2="541.50" y2="92.50" stroke="#555555" stroke-width="1.6" stroke-dasharray="3,2.5"/>
<polygon points="517.00,60.00 541.50,44.50 562.00,44.50 537.50,60.00" fill="none" stroke="#555555" stroke-width="2" stroke-linejoin="round" />
<polygon points="537.50,60.00 562.00,44.50 562.00,92.50 537.50,108.00" fill="none" stroke="#555555" stroke-width="2" stroke-linejoin="round" />
<line x1="517.00" y1="60.00" x2="517.00" y2="108.00" stroke="#555555" stroke-width="1.6" stroke-dasharray="3,2.5"/>
<line x1="517.00" y1="108.00" x2="537.50" y2="108.00" stroke="#555555" stroke-width="2" />
<line x1="537.50" y1="60.00" x2="537.50" y2="108.00" stroke="#555555" stroke-width="2" />
<line x1="517.00" y1="60.00" x2="537.50" y2="60.00" stroke="#555555" stroke-width="2" />
<polygon points="541.60,60.30 544.60,58.10 550.90,58.10 547.90,60.30" fill="#f7b49c" stroke="#6e6a58" stroke-width="0.7" stroke-linejoin="round" />
<polygon points="547.90,60.30 550.90,58.10 550.90,67.50 547.90,69.70" fill="#e99780" stroke="#6e6a58" stroke-width="0.7" stroke-linejoin="round" />
<polygon points="541.60,60.30 547.90,60.30 547.90,69.70 541.60,69.70" fill="#f9a58b" stroke="#6e6a58" stroke-width="0.7" stroke-linejoin="round" />
<polygon points="541.60,70.90 544.60,68.70 550.90,68.70 547.90,70.90" fill="#f7b49c" stroke="#6e6a58" stroke-width="0.7" stroke-linejoin="round" />
<polygon points="547.90,70.90 550.90,68.70 550.90,78.10 547.90,80.30" fill="#e99780" stroke="#6e6a58" stroke-width="0.7" stroke-linejoin="round" />
<polygon points="541.60,70.90 547.90,70.90 547.90,80.30 541.60,80.30" fill="#f9a58b" stroke="#6e6a58" stroke-width="0.7" stroke-linejoin="round" />
<polygon points="541.60,81.50 544.60,79.30 550.90,79.30 547.90,81.50" fill="#f7b49c" stroke="#6e6a58" stroke-width="0.7" stroke-linejoin="round" />
<polygon points="547.90,81.50 550.90,79.30 550.90,88.70 547.90,90.90" fill="#e99780" stroke="#6e6a58" stroke-width="0.7" stroke-linejoin="round" />
<polygon points="541.60,81.50 547.90,81.50 547.90,90.90 541.60,90.90" fill="#f9a58b" stroke="#6e6a58" stroke-width="0.7" stroke-linejoin="round" />
<polygon points="535.60,63.20 538.60,61.00 544.90,61.00 541.90,63.20" fill="#f7b49c" stroke="#6e6a58" stroke-width="0.7" stroke-linejoin="round" />
<polygon points="541.90,63.20 544.90,61.00 544.90,70.40 541.90,72.60" fill="#e99780" stroke="#6e6a58" stroke-width="0.7" stroke-linejoin="round" />
<polygon points="535.60,63.20 541.90,63.20 541.90,72.60 535.60,72.60" fill="#f9a58b" stroke="#6e6a58" stroke-width="0.7" stroke-linejoin="round" />
<polygon points="535.60,73.80 538.60,71.60 544.90,71.60 541.90,73.80" fill="#f7b49c" stroke="#6e6a58" stroke-width="0.7" stroke-linejoin="round" />
<polygon points="541.90,73.80 544.90,71.60 544.90,81.00 541.90,83.20" fill="#e99780" stroke="#6e6a58" stroke-width="0.7" stroke-linejoin="round" />
<polygon points="535.60,73.80 541.90,73.80 541.90,83.20 535.60,83.20" fill="#f9a58b" stroke="#6e6a58" stroke-width="0.7" stroke-linejoin="round" />
<polygon points="535.60,84.40 538.60,82.20 544.90,82.20 541.90,84.40" fill="#f7b49c" stroke="#6e6a58" stroke-width="0.7" stroke-linejoin="round" />
<polygon points="541.90,84.40 544.90,82.20 544.90,91.60 541.90,93.80" fill="#e99780" stroke="#6e6a58" stroke-width="0.7" stroke-linejoin="round" />
<polygon points="535.60,84.40 541.90,84.40 541.90,93.80 535.60,93.80" fill="#f9a58b" stroke="#6e6a58" stroke-width="0.7" stroke-linejoin="round" />
<polygon points="529.60,66.10 532.60,63.90 538.90,63.90 535.90,66.10" fill="#f7b49c" stroke="#6e6a58" stroke-width="0.7" stroke-linejoin="round" />
<polygon points="535.90,66.10 538.90,63.90 538.90,73.30 535.90,75.50" fill="#e99780" stroke="#6e6a58" stroke-width="0.7" stroke-linejoin="round" />
<polygon points="529.60,66.10 535.90,66.10 535.90,75.50 529.60,75.50" fill="#f9a58b" stroke="#6e6a58" stroke-width="0.7" stroke-linejoin="round" />
<polygon points="529.60,76.70 532.60,74.50 538.90,74.50 535.90,76.70" fill="#f7b49c" stroke="#6e6a58" stroke-width="0.7" stroke-linejoin="round" />
<polygon points="535.90,76.70 538.90,74.50 538.90,83.90 535.90,86.10" fill="#e99780" stroke="#6e6a58" stroke-width="0.7" stroke-linejoin="round" />
<polygon points="529.60,76.70 535.90,76.70 535.90,86.10 529.60,86.10" fill="#f9a58b" stroke="#6e6a58" stroke-width="0.7" stroke-linejoin="round" />
<polygon points="529.60,87.30 532.60,85.10 538.90,85.10 535.90,87.30" fill="#f7b49c" stroke="#6e6a58" stroke-width="0.7" stroke-linejoin="round" />
<polygon points="535.90,87.30 538.90,85.10 538.90,94.50 535.90,96.70" fill="#e99780" stroke="#6e6a58" stroke-width="0.7" stroke-linejoin="round" />
<polygon points="529.60,87.30 535.90,87.30 535.90,96.70 529.60,96.70" fill="#f9a58b" stroke="#6e6a58" stroke-width="0.7" stroke-linejoin="round" />
<polygon points="517.00,128.00 537.50,128.00 537.50,176.00 517.00,176.00" fill="#fffad0" stroke="none" stroke-width="1" stroke-linejoin="round" />
<polygon points="517.00,128.00 541.50,112.50 562.00,112.50 537.50,128.00" fill="#fffad8" stroke="none" stroke-width="1" stroke-linejoin="round" />
<polygon points="537.50,128.00 562.00,112.50 562.00,160.50 537.50,176.00" fill="#fffde8" stroke="none" stroke-width="1" stroke-linejoin="round" />
<line x1="541.50" y1="112.50" x2="541.50" y2="160.50" stroke="#555555" stroke-width="1.6" stroke-dasharray="3,2.5"/>
<line x1="541.50" y1="160.50" x2="562.00" y2="160.50" stroke="#555555" stroke-width="1.6" stroke-dasharray="3,2.5"/>
<line x1="517.00" y1="176.00" x2="541.50" y2="160.50" stroke="#555555" stroke-width="1.6" stroke-dasharray="3,2.5"/>
<polygon points="517.00,128.00 541.50,112.50 562.00,112.50 537.50,128.00" fill="none" stroke="#555555" stroke-width="2" stroke-linejoin="round" />
<polygon points="537.50,128.00 562.00,112.50 562.00,160.50 537.50,176.00" fill="none" stroke="#555555" stroke-width="2" stroke-linejoin="round" />
<line x1="517.00" y1="128.00" x2="517.00" y2="176.00" stroke="#555555" stroke-width="1.6" stroke-dasharray="3,2.5"/>
<line x1="517.00" y1="176.00" x2="537.50" y2="176.00" stroke="#555555" stroke-width="2" />
<line x1="537.50" y1="128.00" x2="537.50" y2="176.00" stroke="#555555" stroke-width="2" />
<line x1="517.00" y1="128.00" x2="537.50" y2="128.00" stroke="#555555" stroke-width="2" />
<polygon points="541.60,128.30 544.60,126.10 550.90,126.10 547.90,128.30" fill="#f7b49c" stroke="#6e6a58" stroke-width="0.7" stroke-linejoin="round" />
<polygon points="547.90,128.30 550.90,126.10 550.90,135.50 547.90,137.70" fill="#e99780" stroke="#6e6a58" stroke-width="0.7" stroke-linejoin="round" />
<polygon points="541.60,128.30 547.90,128.30 547.90,137.70 541.60,137.70" fill="#f9a58b" stroke="#6e6a58" stroke-width="0.7" stroke-linejoin="round" />
<polygon points="541.60,138.90 544.60,136.70 550.90,136.70 547.90,138.90" fill="#f7b49c" stroke="#6e6a58" stroke-width="0.7" stroke-linejoin="round" />
<polygon points="547.90,138.90 550.90,136.70 550.90,146.10 547.90,148.30" fill="#e99780" stroke="#6e6a58" stroke-width="0.7" stroke-linejoin="round" />
<polygon points="541.60,138.90 547.90,138.90 547.90,148.30 541.60,148.30" fill="#f9a58b" stroke="#6e6a58" stroke-width="0.7" stroke-linejoin="round" />
<polygon points="541.60,149.50 544.60,147.30 550.90,147.30 547.90,149.50" fill="#f7b49c" stroke="#6e6a58" stroke-width="0.7" stroke-linejoin="round" />
<polygon points="547.90,149.50 550.90,147.30 550.90,156.70 547.90,158.90" fill="#e99780" stroke="#6e6a58" stroke-width="0.7" stroke-linejoin="round" />
<polygon points="541.60,149.50 547.90,149.50 547.90,158.90 541.60,158.90" fill="#f9a58b" stroke="#6e6a58" stroke-width="0.7" stroke-linejoin="round" />
<polygon points="535.60,131.20 538.60,129.00 544.90,129.00 541.90,131.20" fill="#f7b49c" stroke="#6e6a58" stroke-width="0.7" stroke-linejoin="round" />
<polygon points="541.90,131.20 544.90,129.00 544.90,138.40 541.90,140.60" fill="#e99780" stroke="#6e6a58" stroke-width="0.7" stroke-linejoin="round" />
<polygon points="535.60,131.20 541.90,131.20 541.90,140.60 535.60,140.60" fill="#f9a58b" stroke="#6e6a58" stroke-width="0.7" stroke-linejoin="round" />
<polygon points="535.60,141.80 538.60,139.60 544.90,139.60 541.90,141.80" fill="#f7b49c" stroke="#6e6a58" stroke-width="0.7" stroke-linejoin="round" />
<polygon points="541.90,141.80 544.90,139.60 544.90,149.00 541.90,151.20" fill="#e99780" stroke="#6e6a58" stroke-width="0.7" stroke-linejoin="round" />
<polygon points="535.60,141.80 541.90,141.80 541.90,151.20 535.60,151.20" fill="#f9a58b" stroke="#6e6a58" stroke-width="0.7" stroke-linejoin="round" />
<polygon points="535.60,152.40 538.60,150.20 544.90,150.20 541.90,152.40" fill="#f7b49c" stroke="#6e6a58" stroke-width="0.7" stroke-linejoin="round" />
<polygon points="541.90,152.40 544.90,150.20 544.90,159.60 541.90,161.80" fill="#e99780" stroke="#6e6a58" stroke-width="0.7" stroke-linejoin="round" />
<polygon points="535.60,152.40 541.90,152.40 541.90,161.80 535.60,161.80" fill="#f9a58b" stroke="#6e6a58" stroke-width="0.7" stroke-linejoin="round" />
<polygon points="529.60,134.10 532.60,131.90 538.90,131.90 535.90,134.10" fill="#f7b49c" stroke="#6e6a58" stroke-width="0.7" stroke-linejoin="round" />
<polygon points="535.90,134.10 538.90,131.90 538.90,141.30 535.90,143.50" fill="#e99780" stroke="#6e6a58" stroke-width="0.7" stroke-linejoin="round" />
<polygon points="529.60,134.10 535.90,134.10 535.90,143.50 529.60,143.50" fill="#f9a58b" stroke="#6e6a58" stroke-width="0.7" stroke-linejoin="round" />
<polygon points="529.60,144.70 532.60,142.50 538.90,142.50 535.90,144.70" fill="#f7b49c" stroke="#6e6a58" stroke-width="0.7" stroke-linejoin="round" />
<polygon points="535.90,144.70 538.90,142.50 538.90,151.90 535.90,154.10" fill="#e99780" stroke="#6e6a58" stroke-width="0.7" stroke-linejoin="round" />
<polygon points="529.60,144.70 535.90,144.70 535.90,154.10 529.60,154.10" fill="#f9a58b" stroke="#6e6a58" stroke-width="0.7" stroke-linejoin="round" />
<polygon points="529.60,155.30 532.60,153.10 538.90,153.10 535.90,155.30" fill="#f7b49c" stroke="#6e6a58" stroke-width="0.7" stroke-linejoin="round" />
<polygon points="535.90,155.30 538.90,153.10 538.90,162.50 535.90,164.70" fill="#e99780" stroke="#6e6a58" stroke-width="0.7" stroke-linejoin="round" />
<polygon points="529.60,155.30 535.90,155.30 535.90,164.70 529.60,164.70" fill="#f9a58b" stroke="#6e6a58" stroke-width="0.7" stroke-linejoin="round" />
<polygon points="517.00,196.00 537.50,196.00 537.50,244.00 517.00,244.00" fill="#fffad0" stroke="none" stroke-width="1" stroke-linejoin="round" />
<polygon points="517.00,196.00 541.50,180.50 562.00,180.50 537.50,196.00" fill="#fffad8" stroke="none" stroke-width="1" stroke-linejoin="round" />
<polygon points="537.50,196.00 562.00,180.50 562.00,228.50 537.50,244.00" fill="#fffde8" stroke="none" stroke-width="1" stroke-linejoin="round" />
<line x1="541.50" y1="180.50" x2="541.50" y2="228.50" stroke="#555555" stroke-width="1.6" stroke-dasharray="3,2.5"/>
<line x1="541.50" y1="228.50" x2="562.00" y2="228.50" stroke="#555555" stroke-width="1.6" stroke-dasharray="3,2.5"/>
<line x1="517.00" y1="244.00" x2="541.50" y2="228.50" stroke="#555555" stroke-width="1.6" stroke-dasharray="3,2.5"/>
<polygon points="517.00,196.00 541.50,180.50 562.00,180.50 537.50,196.00" fill="none" stroke="#555555" stroke-width="2" stroke-linejoin="round" />
<polygon points="537.50,196.00 562.00,180.50 562.00,228.50 537.50,244.00" fill="none" stroke="#555555" stroke-width="2" stroke-linejoin="round" />
<line x1="517.00" y1="196.00" x2="517.00" y2="244.00" stroke="#555555" stroke-width="1.6" stroke-dasharray="3,2.5"/>
<line x1="517.00" y1="244.00" x2="537.50" y2="244.00" stroke="#555555" stroke-width="2" />
<line x1="537.50" y1="196.00" x2="537.50" y2="244.00" stroke="#555555" stroke-width="2" />
<line x1="517.00" y1="196.00" x2="537.50" y2="196.00" stroke="#555555" stroke-width="2" />
<polygon points="541.60,196.30 544.60,194.10 550.90,194.10 547.90,196.30" fill="#f7b49c" stroke="#6e6a58" stroke-width="0.7" stroke-linejoin="round" />
<polygon points="547.90,196.30 550.90,194.10 550.90,203.50 547.90,205.70" fill="#e99780" stroke="#6e6a58" stroke-width="0.7" stroke-linejoin="round" />
<polygon points="541.60,196.30 547.90,196.30 547.90,205.70 541.60,205.70" fill="#f9a58b" stroke="#6e6a58" stroke-width="0.7" stroke-linejoin="round" />
<polygon points="541.60,206.90 544.60,204.70 550.90,204.70 547.90,206.90" fill="#f7b49c" stroke="#6e6a58" stroke-width="0.7" stroke-linejoin="round" />
<polygon points="547.90,206.90 550.90,204.70 550.90,214.10 547.90,216.30" fill="#e99780" stroke="#6e6a58" stroke-width="0.7" stroke-linejoin="round" />
<polygon points="541.60,206.90 547.90,206.90 547.90,216.30 541.60,216.30" fill="#f9a58b" stroke="#6e6a58" stroke-width="0.7" stroke-linejoin="round" />
<polygon points="541.60,217.50 544.60,215.30 550.90,215.30 547.90,217.50" fill="#f7b49c" stroke="#6e6a58" stroke-width="0.7" stroke-linejoin="round" />
<polygon points="547.90,217.50 550.90,215.30 550.90,224.70 547.90,226.90" fill="#e99780" stroke="#6e6a58" stroke-width="0.7" stroke-linejoin="round" />
<polygon points="541.60,217.50 547.90,217.50 547.90,226.90 541.60,226.90" fill="#f9a58b" stroke="#6e6a58" stroke-width="0.7" stroke-linejoin="round" />
<polygon points="535.60,199.20 538.60,197.00 544.90,197.00 541.90,199.20" fill="#f7b49c" stroke="#6e6a58" stroke-width="0.7" stroke-linejoin="round" />
<polygon points="541.90,199.20 544.90,197.00 544.90,206.40 541.90,208.60" fill="#e99780" stroke="#6e6a58" stroke-width="0.7" stroke-linejoin="round" />
<polygon points="535.60,199.20 541.90,199.20 541.90,208.60 535.60,208.60" fill="#f9a58b" stroke="#6e6a58" stroke-width="0.7" stroke-linejoin="round" />
<polygon points="535.60,209.80 538.60,207.60 544.90,207.60 541.90,209.80" fill="#f7b49c" stroke="#6e6a58" stroke-width="0.7" stroke-linejoin="round" />
<polygon points="541.90,209.80 544.90,207.60 544.90,217.00 541.90,219.20" fill="#e99780" stroke="#6e6a58" stroke-width="0.7" stroke-linejoin="round" />
<polygon points="535.60,209.80 541.90,209.80 541.90,219.20 535.60,219.20" fill="#f9a58b" stroke="#6e6a58" stroke-width="0.7" stroke-linejoin="round" />
<polygon points="535.60,220.40 538.60,218.20 544.90,218.20 541.90,220.40" fill="#f7b49c" stroke="#6e6a58" stroke-width="0.7" stroke-linejoin="round" />
<polygon points="541.90,220.40 544.90,218.20 544.90,227.60 541.90,229.80" fill="#e99780" stroke="#6e6a58" stroke-width="0.7" stroke-linejoin="round" />
<polygon points="535.60,220.40 541.90,220.40 541.90,229.80 535.60,229.80" fill="#f9a58b" stroke="#6e6a58" stroke-width="0.7" stroke-linejoin="round" />
<polygon points="529.60,202.10 532.60,199.90 538.90,199.90 535.90,202.10" fill="#f7b49c" stroke="#6e6a58" stroke-width="0.7" stroke-linejoin="round" />
<polygon points="535.90,202.10 538.90,199.90 538.90,209.30 535.90,211.50" fill="#e99780" stroke="#6e6a58" stroke-width="0.7" stroke-linejoin="round" />
<polygon points="529.60,202.10 535.90,202.10 535.90,211.50 529.60,211.50" fill="#f9a58b" stroke="#6e6a58" stroke-width="0.7" stroke-linejoin="round" />
<polygon points="529.60,212.70 532.60,210.50 538.90,210.50 535.90,212.70" fill="#f7b49c" stroke="#6e6a58" stroke-width="0.7" stroke-linejoin="round" />
<polygon points="535.90,212.70 538.90,210.50 538.90,219.90 535.90,222.10" fill="#e99780" stroke="#6e6a58" stroke-width="0.7" stroke-linejoin="round" />
<polygon points="529.60,212.70 535.90,212.70 535.90,222.10 529.60,222.10" fill="#f9a58b" stroke="#6e6a58" stroke-width="0.7" stroke-linejoin="round" />
<polygon points="529.60,223.30 532.60,221.10 538.90,221.10 535.90,223.30" fill="#f7b49c" stroke="#6e6a58" stroke-width="0.7" stroke-linejoin="round" />
<polygon points="535.90,223.30 538.90,221.10 538.90,230.50 535.90,232.70" fill="#e99780" stroke="#6e6a58" stroke-width="0.7" stroke-linejoin="round" />
<polygon points="529.60,223.30 535.90,223.30 535.90,232.70 529.60,232.70" fill="#f9a58b" stroke="#6e6a58" stroke-width="0.7" stroke-linejoin="round" />
<polygon points="589.00,60.00 609.50,60.00 609.50,108.00 589.00,108.00" fill="#fffde4" stroke="#555555" stroke-width="2" stroke-linejoin="round" />
<polygon points="589.00,60.00 613.50,44.50 634.00,44.50 609.50,60.00" fill="#fffbdd" stroke="#555555" stroke-width="2" stroke-linejoin="round" />
<polygon points="609.50,60.00 634.00,44.50 634.00,92.50 609.50,108.00" fill="#fffee9" stroke="#555555" stroke-width="2" stroke-linejoin="round" />
<polygon points="589.00,128.00 609.50,128.00 609.50,176.00 589.00,176.00" fill="#fffad0" stroke="none" stroke-width="1" stroke-linejoin="round" />
<polygon points="589.00,128.00 613.50,112.50 634.00,112.50 609.50,128.00" fill="#fffad8" stroke="none" stroke-width="1" stroke-linejoin="round" />
<polygon points="609.50,128.00 634.00,112.50 634.00,160.50 609.50,176.00" fill="#fffde8" stroke="none" stroke-width="1" stroke-linejoin="round" />
<line x1="613.50" y1="112.50" x2="613.50" y2="160.50" stroke="#555555" stroke-width="2" />
<line x1="613.50" y1="160.50" x2="634.00" y2="160.50" stroke="#555555" stroke-width="1.6" stroke-dasharray="3,2.5"/>
<line x1="589.00" y1="176.00" x2="613.50" y2="160.50" stroke="#555555" stroke-width="2" />
<polygon points="589.00,128.00 613.50,112.50 634.00,112.50 609.50,128.00" fill="none" stroke="#555555" stroke-width="2" stroke-linejoin="round" />
<polygon points="609.50,128.00 634.00,112.50 634.00,160.50 609.50,176.00" fill="none" stroke="#555555" stroke-width="2" stroke-linejoin="round" />
<polygon points="589.00,128.00 609.50,128.00 609.50,176.00 589.00,176.00" fill="none" stroke="#555555" stroke-width="2" stroke-linejoin="round" />
<polygon points="589.00,196.00 609.50,196.00 609.50,244.00 589.00,244.00" fill="#fffad0" stroke="none" stroke-width="1" stroke-linejoin="round" />
<polygon points="589.00,196.00 613.50,180.50 634.00,180.50 609.50,196.00" fill="#fffad8" stroke="none" stroke-width="1" stroke-linejoin="round" />
<polygon points="609.50,196.00 634.00,180.50 634.00,228.50 609.50,244.00" fill="#fffde8" stroke="none" stroke-width="1" stroke-linejoin="round" />
<line x1="613.50" y1="180.50" x2="613.50" y2="228.50" stroke="#555555" stroke-width="2" />
<line x1="613.50" y1="228.50" x2="634.00" y2="228.50" stroke="#555555" stroke-width="1.6" stroke-dasharray="3,2.5"/>
<line x1="589.00" y1="244.00" x2="613.50" y2="228.50" stroke="#555555" stroke-width="2" />
<polygon points="589.00,196.00 613.50,180.50 634.00,180.50 609.50,196.00" fill="none" stroke="#555555" stroke-width="2" stroke-linejoin="round" />
<polygon points="609.50,196.00 634.00,180.50 634.00,228.50 609.50,244.00" fill="none" stroke="#555555" stroke-width="2" stroke-linejoin="round" />
<polygon points="589.00,196.00 609.50,196.00 609.50,244.00 589.00,244.00" fill="none" stroke="#555555" stroke-width="2" stroke-linejoin="round" />
<polygon points="688.00,60.00 708.50,60.00 708.50,108.00 688.00,108.00" fill="#fffad0" stroke="none" stroke-width="1" stroke-linejoin="round" />
<polygon points="688.00,60.00 712.50,44.50 733.00,44.50 708.50,60.00" fill="#fffad8" stroke="none" stroke-width="1" stroke-linejoin="round" />
<polygon points="708.50,60.00 733.00,44.50 733.00,92.50 708.50,108.00" fill="#fffde8" stroke="none" stroke-width="1" stroke-linejoin="round" />
<line x1="712.50" y1="44.50" x2="712.50" y2="92.50" stroke="#555555" stroke-width="2" />
<line x1="712.50" y1="92.50" x2="733.00" y2="92.50" stroke="#555555" stroke-width="1.6" stroke-dasharray="3,2.5"/>
<line x1="688.00" y1="108.00" x2="712.50" y2="92.50" stroke="#555555" stroke-width="2" />
<polygon points="688.00,60.00 712.50,44.50 733.00,44.50 708.50,60.00" fill="none" stroke="#555555" stroke-width="2" stroke-linejoin="round" />
<polygon points="708.50,60.00 733.00,44.50 733.00,92.50 708.50,108.00" fill="none" stroke="#555555" stroke-width="2" stroke-linejoin="round" />
<polygon points="688.00,60.00 708.50,60.00 708.50,108.00 688.00,108.00" fill="none" stroke="#555555" stroke-width="2" stroke-linejoin="round" />
<polygon points="688.00,128.00 708.50,128.00 708.50,176.00 688.00,176.00" fill="#fffad0" stroke="none" stroke-width="1" stroke-linejoin="round" />
<polygon points="688.00,128.00 712.50,112.50 733.00,112.50 708.50,128.00" fill="#fffad8" stroke="none" stroke-width="1" stroke-linejoin="round" />
<polygon points="708.50,128.00 733.00,112.50 733.00,160.50 708.50,176.00" fill="#fffde8" stroke="none" stroke-width="1" stroke-linejoin="round" />
<line x1="712.50" y1="112.50" x2="712.50" y2="160.50" stroke="#555555" stroke-width="2" />
<line x1="712.50" y1="160.50" x2="733.00" y2="160.50" stroke="#555555" stroke-width="1.6" stroke-dasharray="3,2.5"/>
<line x1="688.00" y1="176.00" x2="712.50" y2="160.50" stroke="#555555" stroke-width="2" />
<polygon points="688.00,128.00 712.50,112.50 733.00,112.50 708.50,128.00" fill="none" stroke="#555555" stroke-width="2" stroke-linejoin="round" />
<polygon points="708.50,128.00 733.00,112.50 733.00,160.50 708.50,176.00" fill="none" stroke="#555555" stroke-width="2" stroke-linejoin="round" />
<polygon points="688.00,128.00 708.50,128.00 708.50,176.00 688.00,176.00" fill="none" stroke="#555555" stroke-width="2" stroke-linejoin="round" />
<polygon points="688.00,196.00 708.50,196.00 708.50,244.00 688.00,244.00" fill="#fffad0" stroke="none" stroke-width="1" stroke-linejoin="round" />
<polygon points="688.00,196.00 712.50,180.50 733.00,180.50 708.50,196.00" fill="#fffad8" stroke="none" stroke-width="1" stroke-linejoin="round" />
<polygon points="708.50,196.00 733.00,180.50 733.00,228.50 708.50,244.00" fill="#fffde8" stroke="none" stroke-width="1" stroke-linejoin="round" />
<line x1="712.50" y1="180.50" x2="712.50" y2="228.50" stroke="#555555" stroke-width="2" />
<line x1="712.50" y1="228.50" x2="733.00" y2="228.50" stroke="#555555" stroke-width="1.6" stroke-dasharray="3,2.5"/>
<line x1="688.00" y1="244.00" x2="712.50" y2="228.50" stroke="#555555" stroke-width="2" />
<polygon points="688.00,196.00 712.50,180.50 733.00,180.50 708.50,196.00" fill="none" stroke="#555555" stroke-width="2" stroke-linejoin="round" />
<polygon points="708.50,196.00 733.00,180.50 733.00,228.50 708.50,244.00" fill="none" stroke="#555555" stroke-width="2" stroke-linejoin="round" />
<polygon points="688.00,196.00 708.50,196.00 708.50,244.00 688.00,244.00" fill="none" stroke="#555555" stroke-width="2" stroke-linejoin="round" />
<line x1="537.50" y1="60.00" x2="537.50" y2="108.00" stroke="#555555" stroke-width="2" />
<line x1="517.00" y1="60.00" x2="537.50" y2="60.00" stroke="#555555" stroke-width="2" />
<line x1="537.50" y1="128.00" x2="537.50" y2="176.00" stroke="#555555" stroke-width="2" />
<line x1="517.00" y1="128.00" x2="537.50" y2="128.00" stroke="#555555" stroke-width="2" />
<line x1="537.50" y1="196.00" x2="537.50" y2="244.00" stroke="#555555" stroke-width="2" />
<line x1="517.00" y1="196.00" x2="537.50" y2="196.00" stroke="#555555" stroke-width="2" />
<line x1="535.90" y1="70.10" x2="609.00" y2="142.00" stroke="#6a6a6a" stroke-width="0.65" />
<line x1="535.90" y1="80.70" x2="609.00" y2="143.50" stroke="#6a6a6a" stroke-width="0.65" />
<line x1="535.90" y1="91.30" x2="609.00" y2="145.00" stroke="#6a6a6a" stroke-width="0.65" />
<line x1="541.90" y1="67.20" x2="609.00" y2="142.00" stroke="#6a6a6a" stroke-width="0.65" />
<line x1="541.90" y1="77.80" x2="609.00" y2="143.50" stroke="#6a6a6a" stroke-width="0.65" />
<line x1="541.90" y1="88.40" x2="609.00" y2="145.00" stroke="#6a6a6a" stroke-width="0.65" />
<line x1="547.90" y1="64.30" x2="609.00" y2="142.00" stroke="#6a6a6a" stroke-width="0.65" />
<line x1="547.90" y1="74.90" x2="609.00" y2="143.50" stroke="#6a6a6a" stroke-width="0.65" />
<line x1="547.90" y1="85.50" x2="609.00" y2="145.00" stroke="#6a6a6a" stroke-width="0.65" />
<line x1="535.90" y1="138.10" x2="609.00" y2="142.00" stroke="#6a6a6a" stroke-width="0.65" />
<line x1="535.90" y1="148.70" x2="609.00" y2="143.50" stroke="#6a6a6a" stroke-width="0.65" />
<line x1="535.90" y1="159.30" x2="609.00" y2="145.00" stroke="#6a6a6a" stroke-width="0.65" />
<line x1="541.90" y1="135.20" x2="609.00" y2="142.00" stroke="#6a6a6a" stroke-width="0.65" />
<line x1="541.90" y1="145.80" x2="609.00" y2="143.50" stroke="#6a6a6a" stroke-width="0.65" />
<line x1="541.90" y1="156.40" x2="609.00" y2="145.00" stroke="#6a6a6a" stroke-width="0.65" />
<line x1="547.90" y1="132.30" x2="609.00" y2="142.00" stroke="#6a6a6a" stroke-width="0.65" />
<line x1="547.90" y1="142.90" x2="609.00" y2="143.50" stroke="#6a6a6a" stroke-width="0.65" />
<line x1="547.90" y1="153.50" x2="609.00" y2="145.00" stroke="#6a6a6a" stroke-width="0.65" />
<line x1="535.90" y1="206.10" x2="609.00" y2="142.00" stroke="#6a6a6a" stroke-width="0.65" />
<line x1="535.90" y1="216.70" x2="609.00" y2="143.50" stroke="#6a6a6a" stroke-width="0.65" />
<line x1="535.90" y1="227.30" x2="609.00" y2="145.00" stroke="#6a6a6a" stroke-width="0.65" />
<line x1="541.90" y1="203.20" x2="609.00" y2="142.00" stroke="#6a6a6a" stroke-width="0.65" />
<line x1="541.90" y1="213.80" x2="609.00" y2="143.50" stroke="#6a6a6a" stroke-width="0.65" />
<line x1="541.90" y1="224.40" x2="609.00" y2="145.00" stroke="#6a6a6a" stroke-width="0.65" />
<line x1="547.90" y1="200.30" x2="609.00" y2="142.00" stroke="#6a6a6a" stroke-width="0.65" />
<line x1="547.90" y1="210.90" x2="609.00" y2="143.50" stroke="#6a6a6a" stroke-width="0.65" />
<line x1="547.90" y1="221.50" x2="609.00" y2="145.00" stroke="#6a6a6a" stroke-width="0.65" />
<polygon points="608.00,140.00 611.00,138.00 618.00,138.00 615.00,140.00" fill="#ff4030" stroke="#900" stroke-width="0.6" stroke-linejoin="round" />
<polygon points="615.00,140.00 618.00,138.00 618.00,147.00 615.00,149.00" fill="#c00" stroke="#900" stroke-width="0.6" stroke-linejoin="round" />
<polygon points="608.00,140.00 615.00,140.00 615.00,149.00 608.00,149.00" fill="#ee1010" stroke="#900" stroke-width="0.6" stroke-linejoin="round" />
<line x1="482.40" y1="152.40" x2="504.00" y2="152.40" stroke="#000" stroke-width="3.2" />
<polygon points="516.50,152.40 502.85,159.20 502.85,145.60" fill="#000" stroke="none" stroke-width="1" stroke-linejoin="round" />
<circle cx="646.6" cy="143.7" r="4.3" fill="#000"/>
<circle cx="660" cy="143.7" r="4.3" fill="#000"/>
<circle cx="673.2" cy="143.7" r="4.3" fill="#000"/>
<polygon points="742.50,61.80 768.20,46.80 768.20,94.80 742.50,109.80" fill="#6fae6b" stroke="#000" stroke-width="2.4" stroke-linejoin="round" />
<polygon points="742.50,127.60 768.20,112.60 768.20,160.60 742.50,175.60" fill="#6fae6b" stroke="#000" stroke-width="2.4" stroke-linejoin="round" />
<polygon points="742.50,194.20 768.20,179.20 768.20,227.20 742.50,242.20" fill="#6fae6b" stroke="#000" stroke-width="2.4" stroke-linejoin="round" />
<path d="M781.3,53.5 V190 C781.3,218 794,236 809,246" fill="none" stroke="#000" stroke-width="4.4" />
<polygon points="823.10,253.90 801.50,255.50 809.80,239.00" fill="#000" stroke="none" stroke-width="1" stroke-linejoin="round" />
<text x="0.00" y="0.00" font-family="Liberation Sans" font-size="17.2" font-weight="bold" text-anchor="middle" fill="#000" transform="translate(805.5,140) rotate(-90)">Regression</text>
<rect x="844.80" y="41.00" width="172.20" height="172.40" fill="url(#dmh)" stroke="none" stroke-width="1" />
<line x1="865.30" y1="41.00" x2="865.30" y2="66.00" stroke="#3d6f8d" stroke-width="0.7" />
<ellipse cx="865.3" cy="71.5" rx="5.3" ry="6.4" fill="#368a8c"/>
<line x1="876.90" y1="41.00" x2="876.90" y2="66.00" stroke="#3d6f8d" stroke-width="0.7" />
<ellipse cx="876.9" cy="71.5" rx="5.3" ry="6.4" fill="#368a8c"/>
<line x1="885.70" y1="41.00" x2="885.70" y2="66.00" stroke="#3d6f8d" stroke-width="0.7" />
<ellipse cx="885.7" cy="71.5" rx="5.3" ry="6.4" fill="#368a8c"/>
<line x1="898.10" y1="41.00" x2="898.10" y2="66.00" stroke="#3d6f8d" stroke-width="0.7" />
<ellipse cx="898.1" cy="71.5" rx="5.3" ry="6.4" fill="#368a8c"/>
<line x1="916.10" y1="41.00" x2="916.10" y2="66.00" stroke="#3d6f8d" stroke-width="0.7" />
<ellipse cx="916.1" cy="71.5" rx="5.3" ry="6.4" fill="#368a8c"/>
<line x1="931.30" y1="41.00" x2="931.30" y2="66.00" stroke="#3d6f8d" stroke-width="0.7" />
<ellipse cx="931.3" cy="71.5" rx="5.3" ry="6.4" fill="#368a8c"/>
<line x1="938.80" y1="41.00" x2="938.80" y2="66.00" stroke="#3d6f8d" stroke-width="0.7" />
<ellipse cx="938.8" cy="71.5" rx="5.3" ry="6.4" fill="#368a8c"/>
<line x1="944.60" y1="41.00" x2="944.60" y2="66.00" stroke="#3d6f8d" stroke-width="0.7" />
<ellipse cx="944.6" cy="71.5" rx="5.3" ry="6.4" fill="#368a8c"/>
<line x1="952.90" y1="41.00" x2="952.90" y2="66.00" stroke="#3d6f8d" stroke-width="0.7" />
<ellipse cx="952.9" cy="71.5" rx="5.3" ry="6.4" fill="#368a8c"/>
<line x1="971.20" y1="41.00" x2="971.20" y2="66.00" stroke="#3d6f8d" stroke-width="0.7" />
<ellipse cx="971.2" cy="71.5" rx="5.3" ry="6.4" fill="#368a8c"/>
<g filter="url(#soft)">
<ellipse cx="866.5" cy="95.5" rx="4" ry="4.5" fill="#3a7a8c"/>
<rect x="864.00" y="97.00" width="5.00" height="10.00" fill="#3a7a8c" stroke="none" stroke-width="1" />
<ellipse cx="866.5" cy="116" rx="6" ry="11" fill="#3a7a8c"/>
<ellipse cx="880" cy="119.5" rx="8" ry="7" fill="#358a8c"/>
<rect x="885.00" y="100.50" width="72.50" height="25.50" fill="#3a748c" stroke="none" stroke-width="1" />
<rect x="890.00" y="100.00" width="1.20" height="26.00" fill="#3f6a8d" stroke="none" stroke-width="1" />
<rect x="897.00" y="100.00" width="1.20" height="26.00" fill="#3f6a8d" stroke="none" stroke-width="1" />
<rect x="904.00" y="100.00" width="1.20" height="26.00" fill="#3f6a8d" stroke="none" stroke-width="1" />
<rect x="917.00" y="100.00" width="1.20" height="26.00" fill="#3f6a8d" stroke="none" stroke-width="1" />
<rect x="926.00" y="100.00" width="1.20" height="26.00" fill="#3f6a8d" stroke="none" stroke-width="1" />
<rect x="936.00" y="100.00" width="1.20" height="26.00" fill="#3f6a8d" stroke="none" stroke-width="1" />
<rect x="946.00" y="100.00" width="1.20" height="26.00" fill="#3f6a8d" stroke="none" stroke-width="1" />
<ellipse cx="966.5" cy="103" rx="6.5" ry="4.5" fill="#3a6f8c"/>
<ellipse cx="966.5" cy="117" rx="7.5" ry="8" fill="#3a6f8c"/>
<rect x="854.50" y="124.00" width="136.00" height="50.00" fill="#31878c" stroke="none" stroke-width="1" />
<rect x="854.50" y="124.00" width="136.00" height="7.00" fill="#35908b" stroke="none" stroke-width="1" />
<rect x="915.80" y="131.00" width="71.70" height="32.80" fill="#42478a" stroke="none" stroke-width="1" />
<rect x="929.00" y="137.00" width="11.00" height="26.80" fill="#3a6d8d" stroke="none" stroke-width="1" />
<rect x="944.00" y="137.00" width="13.00" height="26.80" fill="#3a6d8d" stroke="none" stroke-width="1" />
<rect x="962.00" y="137.00" width="14.00" height="26.80" fill="#3a6d8d" stroke="none" stroke-width="1" />
<rect x="855.00" y="174.00" width="5.00" height="19.00" fill="#31878c" stroke="none" stroke-width="1" />
<rect x="982.00" y="170.00" width="4.00" height="12.00" fill="#3a6d8d" stroke="none" stroke-width="1" />
<ellipse cx="892" cy="193" rx="16" ry="7" fill="#35a086"/>
<ellipse cx="918" cy="190" rx="10" ry="7" fill="#3ca885"/>
</g>
<rect x="844.80" y="41.00" width="172.20" height="172.40" fill="url(#dmv)" stroke="none" stroke-width="1" />
<circle cx="986.6" cy="192" r="15.8" fill="url(#ball)"/>
<g transform="matrix(1,-0.59,0,1,825.3,233.2)"><g clip-path="url(#cp15)"><g filter="url(#soft)"><rect x="0.00" y="0.00" width="20.90" height="47.00" fill="#41498a" opacity="1"/><rect x="0.00" y="0.00" width="5.22" height="47.00" fill="#3d5a8c" opacity="1"/><rect x="2.09" y="8.46" width="1.67" height="3.29" fill="#3a7f8c" opacity="0.6"/><rect x="5.22" y="8.46" width="1.67" height="3.29" fill="#3a7f8c" opacity="0.6"/><rect x="8.36" y="8.46" width="1.67" height="3.29" fill="#3a7f8c" opacity="0.6"/><rect x="12.54" y="8.46" width="1.67" height="3.29" fill="#3a7f8c" opacity="0.6"/><rect x="15.67" y="8.46" width="1.67" height="3.29" fill="#3a7f8c" opacity="0.6"/><rect x="1.67" y="14.10" width="14.00" height="5.64" fill="#3d6a8d" opacity="0.7"/><rect x="1.04" y="20.68" width="17.35" height="1.88" fill="#3a7f8c" opacity="1"/><rect x="1.04" y="22.56" width="9.40" height="9.40" fill="#3c708d" opacity="1"/><rect x="10.45" y="22.56" width="7.31" height="9.40" fill="#3f4f8a" opacity="1"/><rect x="12.54" y="24.44" width="4.18" height="7.52" fill="#3b708c" opacity="0.8"/><rect x="1.04" y="31.96" width="17.35" height="1.88" fill="#3a858c" opacity="1"/><rect x="0.00" y="33.84" width="15.67" height="6.58" fill="#45307c" opacity="1"/><rect x="2.09" y="36.66" width="8.36" height="4.70" fill="#3a9a88" opacity="0.7"/><rect x="0.00" y="41.36" width="20.90" height="5.64" fill="#2f9a88" opacity="1"/><rect x="0.00" y="44.65" width="20.90" height="2.35" fill="#8ed44a" opacity="1"/><rect x="17.56" y="0.00" width="1.67" height="47.00" fill="#2f9a88" opacity="0.8"/><rect x="19.23" y="0.00" width="1.67" height="47.00" fill="#b8de30" opacity="1"/><ellipse cx="16.30" cy="37.60" rx="2.72" ry="3.76" fill="#c2df30"/></g></g></g>
<line x1="825.30" y1="233.20" x2="844.80" y2="41.50" stroke="#ff0000" stroke-width="2" stroke-dasharray="3,2.5"/>
<line x1="847.00" y1="265.50" x2="1017.00" y2="213.40" stroke="#ff0000" stroke-width="2" stroke-dasharray="3,2.5"/>
<text x="527.00" y="277.30" font-family="Liberation Sans" font-size="18.4" font-weight="bold" text-anchor="middle" fill="#000" >(a) Overall framework</text>
<polygon points="151.20,212.80 178.70,212.80 178.70,253.10 203.00,253.10 165.20,286.00 125.50,253.10 151.20,253.10" fill="#ffd966" stroke="#000" stroke-width="2.8" stroke-linejoin="round" stroke-dasharray="4.5,3"/>
<rect x="97.80" y="295.70" width="592.80" height="142.30" fill="#ffe699" stroke="#000" stroke-width="2" />
<g transform="matrix(1,-0.635,0,1,37.2,341.5)"><g clip-path="url(#cp16)"><g filter="url(#soft)"><rect x="0.00" y="0.00" width="37.10" height="79.50" fill="#56443d" opacity="1"/><rect x="29.68" y="0.00" width="7.42" height="63.60" fill="#6d5f58" opacity="1"/><rect x="0.00" y="0.00" width="1.48" height="79.50" fill="#7a6c66" opacity="1"/><rect x="4.45" y="9.54" width="2.23" height="9.54" fill="#d8cfc6" opacity="0.9"/><rect x="8.16" y="11.92" width="2.23" height="7.15" fill="#d8cfc6" opacity="0.9"/><rect x="11.87" y="9.54" width="2.23" height="9.54" fill="#d8cfc6" opacity="0.9"/><rect x="16.32" y="11.92" width="2.23" height="7.15" fill="#d8cfc6" opacity="0.9"/><rect x="20.03" y="9.54" width="2.23" height="9.54" fill="#d8cfc6" opacity="0.9"/><rect x="24.49" y="11.92" width="2.23" height="7.15" fill="#d8cfc6" opacity="0.9"/><rect x="3.71" y="3.18" width="24.12" height="3.18" fill="#8a7870" opacity="0.6"/><rect x="1.86" y="24.64" width="5.19" height="17.49" fill="#c8743a" opacity="1"/><rect x="9.28" y="29.41" width="15.58" height="12.72" fill="#b4aeb4" opacity="1"/><rect x="11.87" y="29.41" width="1.48" height="12.72" fill="#7d7278" opacity="1"/><rect x="17.44" y="29.41" width="1.11" height="12.72" fill="#8a8088" opacity="1"/><rect x="25.23" y="24.64" width="3.34" height="11.93" fill="#d08848" opacity="1"/><rect x="0.00" y="41.34" width="31.54" height="2.78" fill="#c49656" opacity="1"/><rect x="1.48" y="44.12" width="14.10" height="19.48" fill="#ead99a" opacity="1"/><rect x="15.58" y="44.12" width="3.71" height="19.48" fill="#8f6a48" opacity="1"/><rect x="19.29" y="42.14" width="11.87" height="17.49" fill="#b1abc4" opacity="1"/><rect x="22.26" y="43.73" width="1.86" height="15.90" fill="#d8d6e0" opacity="1"/><rect x="0.00" y="62.01" width="31.54" height="2.78" fill="#d3b576" opacity="1"/><rect x="0.00" y="64.79" width="37.10" height="14.71" fill="#4a3f38" opacity="1"/><rect x="0.00" y="75.52" width="37.10" height="3.98" fill="#8c8272" opacity="1"/><rect x="4.45" y="66.38" width="14.10" height="9.14" fill="#1a1716" opacity="1"/><rect x="27.45" y="63.60" width="8.53" height="14.31" fill="#aa4638" opacity="1"/></g></g></g>
<line x1="79.20" y1="367.30" x2="108.00" y2="367.30" stroke="#000" stroke-width="2.8" />
<polygon points="119.60,367.30 106.47,373.60 106.47,361.00" fill="#000" stroke="none" stroke-width="1" stroke-linejoin="round" />
<rect x="119.60" y="304.40" width="17.70" height="125.60" fill="#34b5de" stroke="#000" stroke-width="2" />
<text x="0.00" y="0.00" font-family="Liberation Sans" font-size="12.5" font-weight="bold" text-anchor="middle" fill="#000" transform="translate(132.95,367.20) rotate(-90)">Conv</text>
<rect x="137.30" y="304.40" width="18.90" height="125.60" fill="#fff7e6" stroke="#000" stroke-width="2" />
<text x="0.00" y="0.00" font-family="Liberation Sans" font-size="12.5" font-weight="bold" text-anchor="middle" fill="#000" transform="translate(151.25,367.20) rotate(-90)">BN</text>
<rect x="174.80" y="304.40" width="182.40" height="125.60" fill="#d5dab4" stroke="#000" stroke-width="2" />
<line x1="156.20" y1="366.90" x2="198.00" y2="366.90" stroke="#000" stroke-width="2.8" />
<polygon points="210.60,366.90 197.47,373.20 197.47,360.60" fill="#000" stroke="none" stroke-width="1" stroke-linejoin="round" />
<path d="M186.6,366.9 V316.4 H338.4 V346" fill="none" stroke="#000" stroke-width="2.2" />
<polygon points="338.40,357.50 332.90,345.43 343.90,345.43" fill="#000" stroke="none" stroke-width="1" stroke-linejoin="round" />
<rect x="210.60" y="328.40" width="21.40" height="76.80" fill="#34b5de" stroke="#000" stroke-width="2" />
<text x="0.00" y="0.00" font-family="Liberation Sans" font-size="12.3" font-weight="bold" text-anchor="middle" fill="#000" transform="translate(225.73,366.80) rotate(-90)">Conv</text>
<rect x="232.00" y="328.40" width="22.20" height="76.80" fill="#f3f3ed" stroke="#000" stroke-width="2" />
<text x="0.00" y="0.00" font-family="Liberation Sans" font-size="12.3" font-weight="bold" text-anchor="middle" fill="#000" transform="translate(247.53,366.80) rotate(-90)">BN</text>
<rect x="254.20" y="328.40" width="21.90" height="76.80" fill="#f2a8ee" stroke="#000" stroke-width="2" />
<text x="0.00" y="0.00" font-family="Liberation Sans" font-size="12.0" font-weight="bold" text-anchor="middle" fill="#000" transform="translate(269.47,366.80) rotate(-90)">LReLU</text>
<rect x="276.10" y="328.40" width="22.20" height="76.80" fill="#34b5de" stroke="#000" stroke-width="2" />
<text x="0.00" y="0.00" font-family="Liberation Sans" font-size="12.3" font-weight="bold" text-anchor="middle" fill="#000" transform="translate(291.63,366.80) rotate(-90)">Conv</text>
<rect x="298.30" y="328.40" width="22.00" height="76.80" fill="#f3f3ed" stroke="#000" stroke-width="2" />
<text x="0.00" y="0.00" font-family="Liberation Sans" font-size="12.3" font-weight="bold" text-anchor="middle" fill="#000" transform="translate(313.73,366.80) rotate(-90)">BN</text>
<line x1="320.30" y1="366.90" x2="329.60" y2="366.90" stroke="#000" stroke-width="2.5" />
<circle cx="338.4" cy="366.9" r="8.6" fill="none" stroke="#ff0000" stroke-width="2.4"/>
<line x1="329.80" y1="366.90" x2="347.00" y2="366.90" stroke="#ff0000" stroke-width="2.4" />
<line x1="338.40" y1="358.30" x2="338.40" y2="375.50" stroke="#ff0000" stroke-width="2.4" />
<text x="266.30" y="423.30" font-family="Liberation Sans" font-size="14.2" font-weight="bold" text-anchor="middle" fill="#000" >2D Res-Block</text>
<line x1="347.00" y1="366.90" x2="367.00" y2="366.90" stroke="#000" stroke-width="2.8" />
<polygon points="378.80,366.90 366.20,373.20 366.20,360.60" fill="#000" stroke="none" stroke-width="1" stroke-linejoin="round" />
<circle cx="387.6" cy="356" r="3.7" fill="#000"/>
<circle cx="387.6" cy="366.7" r="3.7" fill="#000"/>
<circle cx="387.6" cy="377.4" r="3.7" fill="#000"/>
<line x1="398.30" y1="366.90" x2="410.00" y2="366.90" stroke="#000" stroke-width="2.8" />
<polygon points="421.60,366.90 409.00,373.20 409.00,360.60" fill="#000" stroke="none" stroke-width="1" stroke-linejoin="round" />
<rect x="421.60" y="304.40" width="41.40" height="125.10" fill="#d5dab4" stroke="#000" stroke-width="2" />
<text x="0.00" y="0.00" font-family="Liberation Sans" font-size="14.1" font-weight="bold" text-anchor="middle" fill="#000" transform="translate(447.38,367.20) rotate(-90)">2D Res-Block</text>
<line x1="463.00" y1="366.90" x2="475.00" y2="366.90" stroke="#000" stroke-width="2.8" />
<polygon points="486.30,366.90 473.70,373.20 473.70,360.60" fill="#000" stroke="none" stroke-width="1" stroke-linejoin="round" />
<rect x="486.00" y="304.40" width="20.70" height="125.10" fill="#34b5de" stroke="#000" stroke-width="2" />
<text x="0.00" y="0.00" font-family="Liberation Sans" font-size="12.5" font-weight="bold" text-anchor="middle" fill="#000" transform="translate(500.85,366.95) rotate(-90)">Conv</text>
<rect x="506.70" y="304.40" width="21.40" height="125.10" fill="#fff7e6" stroke="#000" stroke-width="2" />
<text x="0.00" y="0.00" font-family="Liberation Sans" font-size="12.5" font-weight="bold" text-anchor="middle" fill="#000" transform="translate(521.90,366.95) rotate(-90)">BN</text>
<rect x="528.10" y="304.40" width="22.80" height="125.10" fill="#ffa5e5" stroke="#000" stroke-width="2" />
<text x="0.00" y="0.00" font-family="Liberation Sans" font-size="12.0" font-weight="bold" text-anchor="middle" fill="#000" transform="translate(543.82,366.95) rotate(-90)">LReLU</text>
<line x1="550.90" y1="366.90" x2="561.00" y2="366.90" stroke="#000" stroke-width="2.8" />
<polygon points="572.20,366.90 559.60,373.20 559.60,360.60" fill="#000" stroke="none" stroke-width="1" stroke-linejoin="round" />
<rect x="572.20" y="304.40" width="20.60" height="125.10" fill="#34b5de" stroke="#000" stroke-width="2" />
<text x="0.00" y="0.00" font-family="Liberation Sans" font-size="12.5" font-weight="bold" text-anchor="middle" fill="#000" transform="translate(587.00,366.95) rotate(-90)">Conv</text>
<rect x="592.80" y="304.40" width="21.70" height="125.10" fill="#fff7e6" stroke="#000" stroke-width="2" />
<text x="0.00" y="0.00" font-family="Liberation Sans" font-size="12.5" font-weight="bold" text-anchor="middle" fill="#000" transform="translate(608.15,366.95) rotate(-90)">BN</text>
<rect x="614.50" y="304.40" width="22.50" height="125.10" fill="#ffa5e5" stroke="#000" stroke-width="2" />
<text x="0.00" y="0.00" font-family="Liberation Sans" font-size="12.0" font-weight="bold" text-anchor="middle" fill="#000" transform="translate(630.07,366.95) rotate(-90)">LReLU</text>
<line x1="637.00" y1="366.90" x2="646.00" y2="366.90" stroke="#000" stroke-width="2.8" />
<polygon points="657.50,366.90 644.90,373.20 644.90,360.60" fill="#000" stroke="none" stroke-width="1" stroke-linejoin="round" />
<rect x="657.50" y="304.40" width="20.70" height="125.30" fill="#34b5de" stroke="#000" stroke-width="2" />
<text x="0.00" y="0.00" font-family="Liberation Sans" font-size="12.5" font-weight="bold" text-anchor="middle" fill="#000" transform="translate(672.35,367.05) rotate(-90)">Conv</text>
<line x1="678.20" y1="366.90" x2="698.00" y2="366.90" stroke="#000" stroke-width="2.8" />
<polygon points="709.70,366.90 697.10,373.20 697.10,360.60" fill="#000" stroke="none" stroke-width="1" stroke-linejoin="round" />
<polygon points="717.50,329.60 746.50,305.80 753.40,305.80 753.40,385.50 717.50,409.00" fill="#e0e0e0" stroke="#000" stroke-width="2" stroke-linejoin="round" />
<polygon points="709.70,329.60 746.50,305.80 753.40,305.80 717.50,329.60" fill="#d8d8d8" stroke="#000" stroke-width="2" stroke-linejoin="round" />
<polygon points="717.50,329.60 753.40,305.80 753.40,385.50 717.50,409.00" fill="#e0e0e0" stroke="#000" stroke-width="2" stroke-linejoin="round" />
<rect x="709.70" y="329.60" width="7.80" height="79.40" fill="#efefef" stroke="#000" stroke-width="2" />
<rect x="770.90" y="295.90" width="245.20" height="142.50" fill="#ffffdd" stroke="#000" stroke-width="2" />
<rect x="783.00" y="305.70" width="64.00" height="20.00" fill="#34b5de" stroke="#000" stroke-width="2" />
<rect x="783.00" y="336.00" width="64.00" height="20.70" fill="#fffff4" stroke="#000" stroke-width="2" />
<rect x="783.00" y="367.60" width="64.00" height="21.60" fill="#ffaaf0" stroke="#000" stroke-width="2" />
<text x="815.20" y="321.00" font-family="Liberation Sans" font-size="12.6" font-weight="bold" text-anchor="middle" fill="#000" >Conv</text>
<text x="815.20" y="351.40" font-family="Liberation Sans" font-size="12.6" font-weight="bold" text-anchor="middle" fill="#000" >BN</text>
<text x="815.20" y="383.00" font-family="Liberation Sans" font-size="12.1" font-weight="bold" text-anchor="middle" fill="#000" >LReLU</text>
<text x="861.20" y="321.00" font-family="Liberation Sans" font-size="15.1" font-weight="bold" text-anchor="start" fill="#000" >2D Convolution</text>
<text x="861.20" y="352.30" font-family="Liberation Sans" font-size="15.1" font-weight="bold" text-anchor="start" fill="#000" >Batch Normalization</text>
<text x="861.20" y="383.80" font-family="Liberation Sans" font-size="15.1" font-weight="bold" text-anchor="start" fill="#000" >Leaky ReLU</text>
<text x="861.20" y="420.10" font-family="Liberation Sans" font-size="15.1" font-weight="bold" text-anchor="start" fill="#000" >3D Convolution</text>
<polygon points="804.30,399.90 805.80,398.30 811.50,398.30 810.00,399.90" fill="#ffb0b0" stroke="#707070" stroke-width="0.6" stroke-linejoin="round" />
<polygon points="810.00,399.90 811.50,398.30 811.50,406.00 810.00,407.60" fill="#ee8a8a" stroke="#707070" stroke-width="0.6" stroke-linejoin="round" />
<polygon points="804.30,399.90 810.00,399.90 810.00,407.60 804.30,407.60" fill="#ff9a9a" stroke="#707070" stroke-width="0.6" stroke-linejoin="round" />
<polygon points="804.30,407.60 805.80,406.00 811.50,406.00 810.00,407.60" fill="#ffb0b0" stroke="#707070" stroke-width="0.6" stroke-linejoin="round" />
<polygon points="810.00,407.60 811.50,406.00 811.50,413.70 810.00,415.30" fill="#ee8a8a" stroke="#707070" stroke-width="0.6" stroke-linejoin="round" />
<polygon points="804.30,407.60 810.00,407.60 810.00,415.30 804.30,415.30" fill="#ff9a9a" stroke="#707070" stroke-width="0.6" stroke-linejoin="round" />
<polygon points="804.30,415.30 805.80,413.70 811.50,413.70 810.00,415.30" fill="#ffb0b0" stroke="#707070" stroke-width="0.6" stroke-linejoin="round" />
<polygon points="810.00,415.30 811.50,413.70 811.50,421.40 810.00,423.00" fill="#ee8a8a" stroke="#707070" stroke-width="0.6" stroke-linejoin="round" />
<polygon points="804.30,415.30 810.00,415.30 810.00,423.00 804.30,423.00" fill="#ff9a9a" stroke="#707070" stroke-width="0.6" stroke-linejoin="round" />
<polygon points="798.70,403.70 800.20,402.10 805.90,402.10 804.40,403.70" fill="#ffb0b0" stroke="#707070" stroke-width="0.6" stroke-linejoin="round" />
<polygon points="804.40,403.70 805.90,402.10 805.90,409.80 804.40,411.40" fill="#ee8a8a" stroke="#707070" stroke-width="0.6" stroke-linejoin="round" />
<polygon points="798.70,403.70 804.40,403.70 804.40,411.40 798.70,411.40" fill="#ff9a9a" stroke="#707070" stroke-width="0.6" stroke-linejoin="round" />
<polygon points="798.70,411.40 800.20,409.80 805.90,409.80 804.40,411.40" fill="#ffb0b0" stroke="#707070" stroke-width="0.6" stroke-linejoin="round" />
<polygon points="804.40,411.40 805.90,409.80 805.90,417.50 804.40,419.10" fill="#ee8a8a" stroke="#707070" stroke-width="0.6" stroke-linejoin="round" />
<polygon points="798.70,411.40 804.40,411.40 804.40,419.10 798.70,419.10" fill="#ff9a9a" stroke="#707070" stroke-width="0.6" stroke-linejoin="round" />
<polygon points="798.70,419.10 800.20,417.50 805.90,417.50 804.40,419.10" fill="#ffb0b0" stroke="#707070" stroke-width="0.6" stroke-linejoin="round" />
<polygon points="804.40,419.10 805.90,417.50 805.90,425.20 804.40,426.80" fill="#ee8a8a" stroke="#707070" stroke-width="0.6" stroke-linejoin="round" />
<polygon points="798.70,419.10 804.40,419.10 804.40,426.80 798.70,426.80" fill="#ff9a9a" stroke="#707070" stroke-width="0.6" stroke-linejoin="round" />
<polygon points="793.10,407.50 794.60,405.90 800.30,405.90 798.80,407.50" fill="#ffb0b0" stroke="#707070" stroke-width="0.6" stroke-linejoin="round" />
<polygon points="798.80,407.50 800.30,405.90 800.30,413.60 798.80,415.20" fill="#ee8a8a" stroke="#707070" stroke-width="0.6" stroke-linejoin="round" />
<polygon points="793.10,407.50 798.80,407.50 798.80,415.20 793.10,415.20" fill="#ff9a9a" stroke="#707070" stroke-width="0.6" stroke-linejoin="round" />
<polygon points="793.10,415.20 794.60,413.60 800.30,413.60 798.80,415.20" fill="#ffb0b0" stroke="#707070" stroke-width="0.6" stroke-linejoin="round" />
<polygon points="798.80,415.20 800.30,413.60 800.30,421.30 798.80,422.90" fill="#ee8a8a" stroke="#707070" stroke-width="0.6" stroke-linejoin="round" />
<polygon points="793.10,415.20 798.80,415.20 798.80,422.90 793.10,422.90" fill="#ff9a9a" stroke="#707070" stroke-width="0.6" stroke-linejoin="round" />
<polygon points="793.10,422.90 794.60,421.30 800.30,421.30 798.80,422.90" fill="#ffb0b0" stroke="#707070" stroke-width="0.6" stroke-linejoin="round" />
<polygon points="798.80,422.90 800.30,421.30 800.30,429.00 798.80,430.60" fill="#ee8a8a" stroke="#707070" stroke-width="0.6" stroke-linejoin="round" />
<polygon points="793.10,422.90 798.80,422.90 798.80,430.60 793.10,430.60" fill="#ff9a9a" stroke="#707070" stroke-width="0.6" stroke-linejoin="round" />
<line x1="810.50" y1="403.00" x2="831.50" y2="413.50" stroke="#6a6a6a" stroke-width="0.5" />
<line x1="810.50" y1="405.30" x2="831.50" y2="414.00" stroke="#6a6a6a" stroke-width="0.5" />
<line x1="810.50" y1="407.60" x2="831.50" y2="414.50" stroke="#6a6a6a" stroke-width="0.5" />
<line x1="810.50" y1="409.90" x2="831.50" y2="415.00" stroke="#6a6a6a" stroke-width="0.5" />
<line x1="810.50" y1="412.20" x2="831.50" y2="415.50" stroke="#6a6a6a" stroke-width="0.5" />
<line x1="810.50" y1="414.50" x2="831.50" y2="416.00" stroke="#6a6a6a" stroke-width="0.5" />
<line x1="810.50" y1="416.80" x2="831.50" y2="416.50" stroke="#6a6a6a" stroke-width="0.5" />
<line x1="810.50" y1="419.10" x2="831.50" y2="417.00" stroke="#6a6a6a" stroke-width="0.5" />
<line x1="810.50" y1="421.40" x2="831.50" y2="417.50" stroke="#6a6a6a" stroke-width="0.5" />
<line x1="810.50" y1="423.70" x2="831.50" y2="418.00" stroke="#6a6a6a" stroke-width="0.5" />
<polygon points="831.10,412.10 834.80,409.40 841.20,409.40 837.50,412.10" fill="#ff2020" stroke="#888" stroke-width="0.6" stroke-linejoin="round" />
<polygon points="837.50,412.10 841.20,409.40 841.20,416.80 837.50,419.50" fill="#e00000" stroke="#888" stroke-width="0.6" stroke-linejoin="round" />
<polygon points="831.10,412.10 837.50,412.10 837.50,419.50 831.10,419.50" fill="#ff0000" stroke="#888" stroke-width="0.6" stroke-linejoin="round" />
<text x="392.40" y="464.00" font-family="Liberation Sans" font-size="18.3" font-weight="bold" text-anchor="middle" fill="#000" >(b) Feature&#160; extraction module</text>
<text x="78.80" y="503.90" font-family="Liberation Serif" font-size="23.7" font-weight="normal" text-anchor="start" fill="#000" textLength="84.5" lengthAdjust="spacingAndGlyphs">Figure 6.</text>
<text x="170.20" y="503.90" font-family="Liberation Serif" font-size="23.7" font-weight="normal" text-anchor="start" fill="#000" textLength="808" lengthAdjust="spacingAndGlyphs">An overview of our OACC-Net. Here, a 3&#215;3 LF is used as an example for illustration.</text>
<text x="900.80" y="531.60" font-family="Liberation Sans" font-size="15.8" font-weight="normal" text-anchor="start" fill="#a0a0a0" >CSDN @wtlaibaodao</text></svg>
</body></html>
